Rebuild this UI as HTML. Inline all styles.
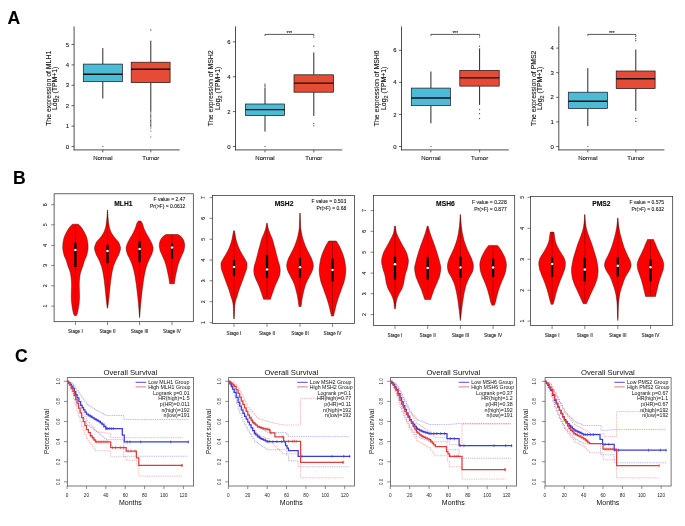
<!DOCTYPE html>
<html lang="en"><head><meta charset="utf-8"><title>MMR gene expression figure</title>
<style>
html,body{margin:0;padding:0;background:#fff;}
body{width:685px;height:526px;overflow:hidden;font-family:"Liberation Sans",Arial,Helvetica,sans-serif;}
svg{display:block;filter:blur(0.3px);}
</style></head><body>
<svg width="685" height="526" viewBox="0 0 685 526" font-family="Liberation Sans, Arial, Helvetica, sans-serif">
<text x="7.6" y="23.8" font-size="17.6" text-anchor="start" font-weight="bold" fill="#000" stroke="#000" stroke-width="0.09">A</text>
<text x="12.9" y="183.8" font-size="17.6" text-anchor="start" font-weight="bold" fill="#000" stroke="#000" stroke-width="0.09">B</text>
<text x="14.9" y="361.9" font-size="17.6" text-anchor="start" font-weight="bold" fill="#000" stroke="#000" stroke-width="0.09">C</text>
<g font-family="Liberation Sans, Arial, Helvetica, sans-serif">
<line x1="74.1" y1="26.4" x2="74.1" y2="150.3" stroke="#222" stroke-width="0.8"/>
<line x1="73.7" y1="149.9" x2="179.7" y2="149.9" stroke="#222" stroke-width="0.8"/>
<line x1="71.5" y1="146.5" x2="74.1" y2="146.5" stroke="#222" stroke-width="0.7"/>
<text x="67.5" y="148.6" font-size="6" text-anchor="middle" fill="#111" stroke="#111" stroke-width="0.09">0</text>
<line x1="71.5" y1="126.1" x2="74.1" y2="126.1" stroke="#222" stroke-width="0.7"/>
<text x="67.5" y="128.2" font-size="6" text-anchor="middle" fill="#111" stroke="#111" stroke-width="0.09">1</text>
<line x1="71.5" y1="105.7" x2="74.1" y2="105.7" stroke="#222" stroke-width="0.7"/>
<text x="67.5" y="107.8" font-size="6" text-anchor="middle" fill="#111" stroke="#111" stroke-width="0.09">2</text>
<line x1="71.5" y1="85.3" x2="74.1" y2="85.3" stroke="#222" stroke-width="0.7"/>
<text x="67.5" y="87.4" font-size="6" text-anchor="middle" fill="#111" stroke="#111" stroke-width="0.09">3</text>
<line x1="71.5" y1="64.9" x2="74.1" y2="64.9" stroke="#222" stroke-width="0.7"/>
<text x="67.5" y="67" font-size="6" text-anchor="middle" fill="#111" stroke="#111" stroke-width="0.09">4</text>
<line x1="71.5" y1="44.5" x2="74.1" y2="44.5" stroke="#222" stroke-width="0.7"/>
<text x="67.5" y="46.6" font-size="6" text-anchor="middle" fill="#111" stroke="#111" stroke-width="0.09">5</text>
<line x1="102.8" y1="149.9" x2="102.8" y2="152.4" stroke="#222" stroke-width="0.7"/>
<text x="102.8" y="159.5" font-size="6" text-anchor="middle" fill="#111" stroke="#111" stroke-width="0.09">Normal</text>
<line x1="150.8" y1="149.9" x2="150.8" y2="152.4" stroke="#222" stroke-width="0.7"/>
<text x="150.8" y="159.5" font-size="6" text-anchor="middle" fill="#111" stroke="#111" stroke-width="0.09">Tumor</text>
<text x="50.6" y="88.3" font-size="6.9" text-anchor="middle" transform="rotate(-90 50.6 88.3)" fill="#111" stroke="#111" stroke-width="0.09">The expression of MLH1</text>
<text x="57.5" y="88.3" font-size="6.9" text-anchor="middle" fill="#111" stroke="#111" stroke-width="0.12" transform="rotate(-90 57.5 88.3)">Log<tspan font-size="5.4" dy="1.6">2</tspan><tspan dy="-1.6"> (TPM+1)</tspan></text>
<line x1="102.8" y1="48.1" x2="102.8" y2="64.1" stroke="#111" stroke-width="0.9"/>
<line x1="102.8" y1="81.7" x2="102.8" y2="98.5" stroke="#111" stroke-width="0.9"/>
<rect x="83.3" y="64.1" width="39.1" height="17.6" fill="#4DBBD5" stroke="#151515" stroke-width="0.7"/>
<line x1="83.3" y1="74.3" x2="122.4" y2="74.3" stroke="#111" stroke-width="1.4"/>
<line x1="150.8" y1="40.7" x2="150.8" y2="62.2" stroke="#111" stroke-width="0.9"/>
<line x1="150.8" y1="82.6" x2="150.8" y2="111" stroke="#111" stroke-width="0.9"/>
<rect x="131.2" y="62.2" width="38.9" height="20.4" fill="#E64B35" stroke="#151515" stroke-width="0.7"/>
<line x1="131.2" y1="69.3" x2="170.1" y2="69.3" stroke="#111" stroke-width="1.4"/>
<circle cx="102.8" cy="146.5" r="0.6" fill="#333"/>
<circle cx="150.8" cy="29.9" r="0.6" fill="#333"/>
<circle cx="150.8" cy="111.5" r="0.6" fill="#333"/>
<circle cx="150.8" cy="112.77" r="0.6" fill="#333"/>
<circle cx="150.8" cy="114.04" r="0.6" fill="#333"/>
<circle cx="150.8" cy="115.31" r="0.6" fill="#333"/>
<circle cx="150.8" cy="116.58" r="0.6" fill="#333"/>
<circle cx="150.8" cy="117.85" r="0.6" fill="#333"/>
<circle cx="150.8" cy="119.12" r="0.6" fill="#333"/>
<circle cx="150.8" cy="120.38" r="0.6" fill="#333"/>
<circle cx="150.8" cy="121.65" r="0.6" fill="#333"/>
<circle cx="150.8" cy="122.92" r="0.6" fill="#333"/>
<circle cx="150.8" cy="124.19" r="0.6" fill="#333"/>
<circle cx="150.8" cy="125.46" r="0.6" fill="#333"/>
<circle cx="150.8" cy="126.73" r="0.6" fill="#333"/>
<circle cx="150.8" cy="128" r="0.6" fill="#333"/>
<circle cx="150.8" cy="131" r="0.6" fill="#333"/>
<circle cx="150.8" cy="137" r="0.6" fill="#333"/>
<line x1="235.5" y1="26.4" x2="235.5" y2="150.3" stroke="#222" stroke-width="0.8"/>
<line x1="235.1" y1="149.9" x2="342.3" y2="149.9" stroke="#222" stroke-width="0.8"/>
<line x1="232.9" y1="146.5" x2="235.5" y2="146.5" stroke="#222" stroke-width="0.7"/>
<text x="228.9" y="148.6" font-size="6" text-anchor="middle" fill="#111" stroke="#111" stroke-width="0.09">0</text>
<line x1="232.9" y1="111.6" x2="235.5" y2="111.6" stroke="#222" stroke-width="0.7"/>
<text x="228.9" y="113.7" font-size="6" text-anchor="middle" fill="#111" stroke="#111" stroke-width="0.09">2</text>
<line x1="232.9" y1="76.7" x2="235.5" y2="76.7" stroke="#222" stroke-width="0.7"/>
<text x="228.9" y="78.8" font-size="6" text-anchor="middle" fill="#111" stroke="#111" stroke-width="0.09">4</text>
<line x1="232.9" y1="41.8" x2="235.5" y2="41.8" stroke="#222" stroke-width="0.7"/>
<text x="228.9" y="43.9" font-size="6" text-anchor="middle" fill="#111" stroke="#111" stroke-width="0.09">6</text>
<line x1="265" y1="149.9" x2="265" y2="152.4" stroke="#222" stroke-width="0.7"/>
<text x="265" y="159.5" font-size="6" text-anchor="middle" fill="#111" stroke="#111" stroke-width="0.09">Normal</text>
<line x1="313.8" y1="149.9" x2="313.8" y2="152.4" stroke="#222" stroke-width="0.7"/>
<text x="313.8" y="159.5" font-size="6" text-anchor="middle" fill="#111" stroke="#111" stroke-width="0.09">Tumor</text>
<text x="213.1" y="88.3" font-size="6.9" text-anchor="middle" transform="rotate(-90 213.1 88.3)" fill="#111" stroke="#111" stroke-width="0.09">The expression of MSH2</text>
<text x="220.3" y="88.3" font-size="6.9" text-anchor="middle" fill="#111" stroke="#111" stroke-width="0.12" transform="rotate(-90 220.3 88.3)">Log<tspan font-size="5.4" dy="1.6">2</tspan><tspan dy="-1.6"> (TPM+1)</tspan></text>
<line x1="265" y1="87.5" x2="265" y2="104" stroke="#111" stroke-width="0.9"/>
<line x1="265" y1="115.6" x2="265" y2="131.6" stroke="#111" stroke-width="0.9"/>
<rect x="245.5" y="104" width="39.1" height="11.6" fill="#4DBBD5" stroke="#151515" stroke-width="0.7"/>
<line x1="245.5" y1="109.6" x2="284.6" y2="109.6" stroke="#111" stroke-width="1.4"/>
<line x1="313.8" y1="52.5" x2="313.8" y2="74.8" stroke="#111" stroke-width="0.9"/>
<line x1="313.8" y1="92.2" x2="313.8" y2="115.9" stroke="#111" stroke-width="0.9"/>
<rect x="294" y="74.8" width="39.6" height="17.4" fill="#E64B35" stroke="#151515" stroke-width="0.7"/>
<line x1="294" y1="83.1" x2="333.6" y2="83.1" stroke="#111" stroke-width="1.4"/>
<circle cx="265" cy="146.5" r="0.6" fill="#333"/>
<circle cx="265" cy="84" r="0.6" fill="#333"/>
<circle cx="265" cy="85.2" r="0.6" fill="#333"/>
<circle cx="265" cy="86.3" r="0.6" fill="#333"/>
<circle cx="313.8" cy="46.2" r="0.6" fill="#333"/>
<circle cx="313.8" cy="37.1" r="0.6" fill="#333"/>
<circle cx="313.8" cy="123.6" r="0.6" fill="#333"/>
<circle cx="313.8" cy="125.8" r="0.6" fill="#333"/>
<path d="M265 35.9 V34.4 H313.8 V35.9" fill="none" stroke="#222" stroke-width="0.75"/>
<text x="289.4" y="35.1" font-size="4.8" text-anchor="middle" fill="#111" stroke="#111" stroke-width="0.09">***</text>
<line x1="401.5" y1="26.4" x2="401.5" y2="150.3" stroke="#222" stroke-width="0.8"/>
<line x1="401.1" y1="149.9" x2="508.9" y2="149.9" stroke="#222" stroke-width="0.8"/>
<line x1="398.9" y1="146.5" x2="401.5" y2="146.5" stroke="#222" stroke-width="0.7"/>
<text x="394.9" y="148.6" font-size="6" text-anchor="middle" fill="#111" stroke="#111" stroke-width="0.09">0</text>
<line x1="398.9" y1="114.44" x2="401.5" y2="114.44" stroke="#222" stroke-width="0.7"/>
<text x="394.9" y="116.54" font-size="6" text-anchor="middle" fill="#111" stroke="#111" stroke-width="0.09">2</text>
<line x1="398.9" y1="82.38" x2="401.5" y2="82.38" stroke="#222" stroke-width="0.7"/>
<text x="394.9" y="84.48" font-size="6" text-anchor="middle" fill="#111" stroke="#111" stroke-width="0.09">4</text>
<line x1="398.9" y1="50.32" x2="401.5" y2="50.32" stroke="#222" stroke-width="0.7"/>
<text x="394.9" y="52.42" font-size="6" text-anchor="middle" fill="#111" stroke="#111" stroke-width="0.09">6</text>
<line x1="430.9" y1="149.9" x2="430.9" y2="152.4" stroke="#222" stroke-width="0.7"/>
<text x="430.9" y="159.5" font-size="6" text-anchor="middle" fill="#111" stroke="#111" stroke-width="0.09">Normal</text>
<line x1="479.6" y1="149.9" x2="479.6" y2="152.4" stroke="#222" stroke-width="0.7"/>
<text x="479.6" y="159.5" font-size="6" text-anchor="middle" fill="#111" stroke="#111" stroke-width="0.09">Tumor</text>
<text x="378.9" y="88.3" font-size="6.9" text-anchor="middle" transform="rotate(-90 378.9 88.3)" fill="#111" stroke="#111" stroke-width="0.09">The expression of MSH6</text>
<text x="386.1" y="88.3" font-size="6.9" text-anchor="middle" fill="#111" stroke="#111" stroke-width="0.12" transform="rotate(-90 386.1 88.3)">Log<tspan font-size="5.4" dy="1.6">2</tspan><tspan dy="-1.6"> (TPM+1)</tspan></text>
<line x1="430.9" y1="71.5" x2="430.9" y2="88.1" stroke="#111" stroke-width="0.9"/>
<line x1="430.9" y1="105.7" x2="430.9" y2="123.3" stroke="#111" stroke-width="0.9"/>
<rect x="411.3" y="88.1" width="39.1" height="17.6" fill="#4DBBD5" stroke="#151515" stroke-width="0.7"/>
<line x1="411.3" y1="98" x2="450.4" y2="98" stroke="#111" stroke-width="1.4"/>
<line x1="479.6" y1="48.4" x2="479.6" y2="70.4" stroke="#111" stroke-width="0.9"/>
<line x1="479.6" y1="86.1" x2="479.6" y2="104.9" stroke="#111" stroke-width="0.9"/>
<rect x="459.8" y="70.4" width="39.4" height="15.7" fill="#E64B35" stroke="#151515" stroke-width="0.7"/>
<line x1="459.8" y1="77.9" x2="499.2" y2="77.9" stroke="#111" stroke-width="1.4"/>
<circle cx="430.9" cy="146.5" r="0.6" fill="#333"/>
<circle cx="479.6" cy="46.2" r="0.6" fill="#333"/>
<circle cx="479.6" cy="37.1" r="0.6" fill="#333"/>
<circle cx="479.6" cy="109.6" r="0.6" fill="#333"/>
<circle cx="479.6" cy="113.7" r="0.6" fill="#333"/>
<circle cx="479.6" cy="118.6" r="0.6" fill="#333"/>
<path d="M430.9 35.9 V34.4 H479.6 V35.9" fill="none" stroke="#222" stroke-width="0.75"/>
<text x="455.25" y="35.1" font-size="4.8" text-anchor="middle" fill="#111" stroke="#111" stroke-width="0.09">***</text>
<line x1="558.8" y1="26.4" x2="558.8" y2="150.3" stroke="#222" stroke-width="0.8"/>
<line x1="558.4" y1="149.9" x2="664.4" y2="149.9" stroke="#222" stroke-width="0.8"/>
<line x1="556.2" y1="146.5" x2="558.8" y2="146.5" stroke="#222" stroke-width="0.7"/>
<text x="552.2" y="148.6" font-size="6" text-anchor="middle" fill="#111" stroke="#111" stroke-width="0.09">0</text>
<line x1="556.2" y1="121.9" x2="558.8" y2="121.9" stroke="#222" stroke-width="0.7"/>
<text x="552.2" y="124" font-size="6" text-anchor="middle" fill="#111" stroke="#111" stroke-width="0.09">1</text>
<line x1="556.2" y1="97.3" x2="558.8" y2="97.3" stroke="#222" stroke-width="0.7"/>
<text x="552.2" y="99.4" font-size="6" text-anchor="middle" fill="#111" stroke="#111" stroke-width="0.09">2</text>
<line x1="556.2" y1="72.7" x2="558.8" y2="72.7" stroke="#222" stroke-width="0.7"/>
<text x="552.2" y="74.8" font-size="6" text-anchor="middle" fill="#111" stroke="#111" stroke-width="0.09">3</text>
<line x1="556.2" y1="48.1" x2="558.8" y2="48.1" stroke="#222" stroke-width="0.7"/>
<text x="552.2" y="50.2" font-size="6" text-anchor="middle" fill="#111" stroke="#111" stroke-width="0.09">4</text>
<line x1="587.8" y1="149.9" x2="587.8" y2="152.4" stroke="#222" stroke-width="0.7"/>
<text x="587.8" y="159.5" font-size="6" text-anchor="middle" fill="#111" stroke="#111" stroke-width="0.09">Normal</text>
<line x1="635.8" y1="149.9" x2="635.8" y2="152.4" stroke="#222" stroke-width="0.7"/>
<text x="635.8" y="159.5" font-size="6" text-anchor="middle" fill="#111" stroke="#111" stroke-width="0.09">Tumor</text>
<text x="535.6" y="88.3" font-size="6.9" text-anchor="middle" transform="rotate(-90 535.6 88.3)" fill="#111" stroke="#111" stroke-width="0.09">The expression of PMS2</text>
<text x="542.5" y="88.3" font-size="6.9" text-anchor="middle" fill="#111" stroke="#111" stroke-width="0.12" transform="rotate(-90 542.5 88.3)">Log<tspan font-size="5.4" dy="1.6">2</tspan><tspan dy="-1.6"> (TPM+1)</tspan></text>
<line x1="587.8" y1="68.2" x2="587.8" y2="92.2" stroke="#111" stroke-width="0.9"/>
<line x1="587.8" y1="108.5" x2="587.8" y2="126.1" stroke="#111" stroke-width="0.9"/>
<rect x="568.3" y="92.2" width="39.1" height="16.3" fill="#4DBBD5" stroke="#151515" stroke-width="0.7"/>
<line x1="568.3" y1="101.3" x2="607.4" y2="101.3" stroke="#111" stroke-width="1.4"/>
<line x1="635.8" y1="49.5" x2="635.8" y2="71" stroke="#111" stroke-width="0.9"/>
<line x1="635.8" y1="88.6" x2="635.8" y2="110.9" stroke="#111" stroke-width="0.9"/>
<rect x="616.2" y="71" width="38.9" height="17.6" fill="#E64B35" stroke="#151515" stroke-width="0.7"/>
<line x1="616.2" y1="78.7" x2="655.1" y2="78.7" stroke="#111" stroke-width="1.4"/>
<circle cx="587.8" cy="146.5" r="0.6" fill="#333"/>
<circle cx="635.8" cy="36.5" r="0.6" fill="#333"/>
<circle cx="635.8" cy="38.7" r="0.6" fill="#333"/>
<circle cx="635.8" cy="40.7" r="0.6" fill="#333"/>
<circle cx="635.8" cy="118.4" r="0.6" fill="#333"/>
<circle cx="635.8" cy="121.4" r="0.6" fill="#333"/>
<path d="M587.8 35.9 V34.4 H635.8 V35.9" fill="none" stroke="#222" stroke-width="0.75"/>
<text x="611.8" y="35.1" font-size="4.8" text-anchor="middle" fill="#111" stroke="#111" stroke-width="0.09">***</text>
</g>
<g font-family="Liberation Sans, Arial, Helvetica, sans-serif">
<rect x="54.1" y="193.8" width="139.2" height="127.9" fill="#fff" stroke="#222" stroke-width="0.7"/>
<line x1="51.2" y1="204.7" x2="54.1" y2="204.7" stroke="#333" stroke-width="0.6"/>
<text x="47.5" y="204.7" font-size="5.2" text-anchor="middle" transform="rotate(-90 47.5 204.7)" fill="#111" stroke="#111" stroke-width="0.09">6</text>
<line x1="51.2" y1="224.8" x2="54.1" y2="224.8" stroke="#333" stroke-width="0.6"/>
<text x="47.5" y="224.8" font-size="5.2" text-anchor="middle" transform="rotate(-90 47.5 224.8)" fill="#111" stroke="#111" stroke-width="0.09">5</text>
<line x1="51.2" y1="245.4" x2="54.1" y2="245.4" stroke="#333" stroke-width="0.6"/>
<text x="47.5" y="245.4" font-size="5.2" text-anchor="middle" transform="rotate(-90 47.5 245.4)" fill="#111" stroke="#111" stroke-width="0.09">4</text>
<line x1="51.2" y1="265.4" x2="54.1" y2="265.4" stroke="#333" stroke-width="0.6"/>
<text x="47.5" y="265.4" font-size="5.2" text-anchor="middle" transform="rotate(-90 47.5 265.4)" fill="#111" stroke="#111" stroke-width="0.09">3</text>
<line x1="51.2" y1="285.8" x2="54.1" y2="285.8" stroke="#333" stroke-width="0.6"/>
<text x="47.5" y="285.8" font-size="5.2" text-anchor="middle" transform="rotate(-90 47.5 285.8)" fill="#111" stroke="#111" stroke-width="0.09">2</text>
<line x1="51.2" y1="306.1" x2="54.1" y2="306.1" stroke="#333" stroke-width="0.6"/>
<text x="47.5" y="306.1" font-size="5.2" text-anchor="middle" transform="rotate(-90 47.5 306.1)" fill="#111" stroke="#111" stroke-width="0.09">1</text>
<line x1="75.4" y1="321.7" x2="75.4" y2="325.2" stroke="#333" stroke-width="0.6"/>
<text x="75.4" y="333" font-size="4.7" text-anchor="middle" fill="#222" stroke="#222" stroke-width="0.09">Stage I</text>
<line x1="107.5" y1="321.7" x2="107.5" y2="325.2" stroke="#333" stroke-width="0.6"/>
<text x="107.5" y="333" font-size="4.7" text-anchor="middle" fill="#222" stroke="#222" stroke-width="0.09">Stage II</text>
<line x1="139.6" y1="321.7" x2="139.6" y2="325.2" stroke="#333" stroke-width="0.6"/>
<text x="139.6" y="333" font-size="4.7" text-anchor="middle" fill="#222" stroke="#222" stroke-width="0.09">Stage III</text>
<line x1="172" y1="321.7" x2="172" y2="325.2" stroke="#333" stroke-width="0.6"/>
<text x="172" y="333" font-size="4.7" text-anchor="middle" fill="#222" stroke="#222" stroke-width="0.09">Stage IV</text>
<text x="123.4" y="205.9" font-size="6.7" text-anchor="middle" font-weight="bold" fill="#000" stroke="#000" stroke-width="0.09">MLH1</text>
<text x="185.3" y="200.5" font-size="5" text-anchor="end" fill="#111" stroke="#111" stroke-width="0.09">F value = 2.47</text>
<text x="185.3" y="208.2" font-size="5" text-anchor="end" fill="#111" stroke="#111" stroke-width="0.09">Pr(&gt;F) = 0.0612</text>
<path d="M72.4 224.2 L70.87 225.75 L69.57 227.3 L68.46 228.85 L67.48 230.4 L66.63 231.95 L65.86 233.49 L65.12 235.04 L64.46 236.59 L63.93 238.14 L63.56 239.69 L63.28 241.24 L63.04 242.79 L62.84 244.34 L62.72 245.89 L62.71 247.44 L62.82 248.99 L63.03 250.54 L63.32 252.08 L63.68 253.63 L64.07 255.18 L64.56 256.73 L65.31 258.28 L66.04 259.83 L66.57 261.38 L67.03 262.93 L67.47 264.48 L67.94 266.03 L68.5 267.58 L69.11 269.13 L69.7 270.67 L70.16 272.22 L70.49 273.77 L70.78 275.32 L71.01 276.87 L71.19 278.42 L71.34 279.97 L71.47 281.52 L71.56 283.07 L71.6 284.62 L71.58 286.17 L71.52 287.72 L71.45 289.26 L71.4 290.81 L71.37 292.36 L71.34 293.91 L71.31 295.46 L71.3 297.01 L71.33 298.56 L71.42 300.11 L71.55 301.66 L71.69 303.21 L71.86 304.76 L72.08 306.31 L72.33 307.85 L72.6 309.4 L72.88 310.95 L73.21 312.5 L73.69 314.05 L74.4 315.6 L76.4 315.6 L77.11 314.05 L77.59 312.5 L77.92 310.95 L78.2 309.4 L78.47 307.85 L78.72 306.31 L78.94 304.76 L79.11 303.21 L79.25 301.66 L79.38 300.11 L79.47 298.56 L79.5 297.01 L79.49 295.46 L79.46 293.91 L79.43 292.36 L79.4 290.81 L79.35 289.26 L79.28 287.72 L79.22 286.17 L79.2 284.62 L79.24 283.07 L79.33 281.52 L79.46 279.97 L79.61 278.42 L79.79 276.87 L80.02 275.32 L80.31 273.77 L80.64 272.22 L81.1 270.67 L81.69 269.13 L82.3 267.58 L82.86 266.03 L83.33 264.48 L83.77 262.93 L84.23 261.38 L84.76 259.83 L85.49 258.28 L86.24 256.73 L86.73 255.18 L87.12 253.63 L87.48 252.08 L87.77 250.54 L87.98 248.99 L88.09 247.44 L88.08 245.89 L87.96 244.34 L87.76 242.79 L87.52 241.24 L87.24 239.69 L86.87 238.14 L86.34 236.59 L85.68 235.04 L84.94 233.49 L84.17 231.95 L83.32 230.4 L82.34 228.85 L81.23 227.3 L79.93 225.75 L78.4 224.2Z" fill="#FF0000" stroke="#3a0000" stroke-width="0.45" stroke-linejoin="round"/>
<line x1="75.4" y1="224.7" x2="75.4" y2="313.6" stroke="#200" stroke-width="0.35"/>
<rect x="74.25" y="242.5" width="2.3" height="24.5" fill="#000"/>
<circle cx="75.4" cy="250.1" r="1.25" fill="#fff"/>
<path d="M107.4 210 L107.33 211.66 L107.24 213.33 L107.13 214.99 L107.01 216.66 L106.87 218.32 L106.72 219.99 L106.54 221.65 L106.33 223.32 L106.08 224.98 L105.77 226.64 L105.35 228.31 L104.8 229.97 L104.15 231.64 L103.34 233.3 L102.25 234.97 L101.02 236.63 L99.78 238.29 L98.31 239.96 L96.85 241.62 L95.88 243.29 L95.21 244.95 L94.7 246.62 L94.5 248.28 L94.69 249.95 L95.15 251.61 L95.74 253.27 L96.37 254.94 L97.22 256.6 L98.14 258.27 L98.97 259.93 L99.69 261.6 L100.38 263.26 L101.03 264.93 L101.6 266.59 L102.06 268.25 L102.46 269.92 L102.81 271.58 L103.13 273.25 L103.42 274.91 L103.69 276.58 L103.93 278.24 L104.16 279.91 L104.37 281.57 L104.57 283.23 L104.76 284.9 L104.94 286.56 L105.11 288.23 L105.29 289.89 L105.46 291.56 L105.63 293.22 L105.79 294.88 L105.95 296.55 L106.11 298.21 L106.29 299.88 L106.47 301.54 L106.67 303.21 L106.87 304.87 L107.08 306.54 L107.3 308.2 L107.7 308.2 L107.92 306.54 L108.13 304.87 L108.33 303.21 L108.53 301.54 L108.71 299.88 L108.89 298.21 L109.05 296.55 L109.21 294.88 L109.37 293.22 L109.54 291.56 L109.71 289.89 L109.89 288.23 L110.06 286.56 L110.24 284.9 L110.43 283.23 L110.63 281.57 L110.84 279.91 L111.07 278.24 L111.31 276.58 L111.58 274.91 L111.87 273.25 L112.19 271.58 L112.54 269.92 L112.94 268.25 L113.4 266.59 L113.97 264.93 L114.62 263.26 L115.31 261.6 L116.03 259.93 L116.86 258.27 L117.78 256.6 L118.63 254.94 L119.26 253.27 L119.85 251.61 L120.31 249.95 L120.5 248.28 L120.3 246.62 L119.79 244.95 L119.12 243.29 L118.15 241.62 L116.69 239.96 L115.22 238.29 L113.98 236.63 L112.75 234.97 L111.66 233.3 L110.85 231.64 L110.2 229.97 L109.65 228.31 L109.23 226.64 L108.92 224.98 L108.67 223.32 L108.46 221.65 L108.28 219.99 L108.13 218.32 L107.99 216.66 L107.87 214.99 L107.76 213.33 L107.67 211.66 L107.6 210Z" fill="#FF0000" stroke="#3a0000" stroke-width="0.45" stroke-linejoin="round"/>
<line x1="107.5" y1="210.5" x2="107.5" y2="306.2" stroke="#200" stroke-width="0.35"/>
<rect x="106.35" y="244.8" width="2.3" height="18.3" fill="#000"/>
<circle cx="107.5" cy="251" r="1.25" fill="#fff"/>
<path d="M138.4 221 L137.19 222.64 L136.5 224.27 L136.04 225.91 L135.56 227.55 L134.92 229.19 L134.19 230.82 L133.39 232.46 L132.55 234.1 L131.62 235.74 L130.62 237.37 L129.64 239.01 L128.76 240.65 L127.91 242.28 L127.17 243.92 L126.64 245.56 L126.21 247.2 L126.12 248.83 L126.35 250.47 L126.76 252.11 L127.24 253.75 L127.96 255.38 L128.82 257.02 L129.65 258.66 L130.36 260.29 L131.07 261.93 L131.74 263.57 L132.34 265.21 L132.85 266.84 L133.32 268.48 L133.74 270.12 L134.13 271.76 L134.48 273.39 L134.81 275.03 L135.1 276.67 L135.37 278.31 L135.63 279.94 L135.87 281.58 L136.1 283.22 L136.32 284.85 L136.53 286.49 L136.75 288.13 L136.95 289.77 L137.15 291.4 L137.35 293.04 L137.53 294.68 L137.71 296.32 L137.89 297.95 L138.06 299.59 L138.22 301.23 L138.38 302.86 L138.54 304.5 L138.68 306.14 L138.82 307.78 L138.96 309.41 L139.08 311.05 L139.19 312.69 L139.3 314.33 L139.41 315.96 L139.5 317.6 L139.7 317.6 L139.79 315.96 L139.9 314.33 L140.01 312.69 L140.12 311.05 L140.24 309.41 L140.38 307.78 L140.52 306.14 L140.66 304.5 L140.82 302.86 L140.98 301.23 L141.14 299.59 L141.31 297.95 L141.49 296.32 L141.67 294.68 L141.85 293.04 L142.05 291.4 L142.25 289.77 L142.45 288.13 L142.67 286.49 L142.88 284.85 L143.1 283.22 L143.33 281.58 L143.57 279.94 L143.83 278.31 L144.1 276.67 L144.39 275.03 L144.72 273.39 L145.07 271.76 L145.46 270.12 L145.88 268.48 L146.35 266.84 L146.86 265.21 L147.46 263.57 L148.13 261.93 L148.84 260.29 L149.55 258.66 L150.38 257.02 L151.24 255.38 L151.96 253.75 L152.44 252.11 L152.85 250.47 L153.08 248.83 L152.99 247.2 L152.56 245.56 L152.03 243.92 L151.29 242.28 L150.44 240.65 L149.56 239.01 L148.58 237.37 L147.58 235.74 L146.65 234.1 L145.81 232.46 L145.01 230.82 L144.28 229.19 L143.64 227.55 L143.16 225.91 L142.7 224.27 L142.01 222.64 L140.8 221Z" fill="#FF0000" stroke="#3a0000" stroke-width="0.45" stroke-linejoin="round"/>
<line x1="139.6" y1="221.5" x2="139.6" y2="315.6" stroke="#200" stroke-width="0.35"/>
<rect x="138.45" y="241" width="2.3" height="21.2" fill="#000"/>
<circle cx="139.6" cy="248.9" r="1.25" fill="#fff"/>
<path d="M166.2 234.5 L164.59 235.33 L163.4 236.17 L162.55 237 L161.86 237.84 L161.29 238.67 L160.77 239.5 L160.34 240.34 L160.05 241.17 L159.83 242.01 L159.62 242.84 L159.46 243.67 L159.34 244.51 L159.3 245.34 L159.33 246.17 L159.42 247.01 L159.55 247.84 L159.71 248.68 L159.89 249.51 L160.08 250.34 L160.34 251.18 L160.67 252.01 L161.03 252.85 L161.41 253.68 L161.79 254.51 L162.15 255.35 L162.52 256.18 L162.9 257.02 L163.28 257.85 L163.66 258.68 L164.01 259.52 L164.33 260.35 L164.64 261.18 L164.94 262.02 L165.23 262.85 L165.51 263.69 L165.77 264.52 L166.02 265.35 L166.25 266.19 L166.47 267.02 L166.67 267.86 L166.87 268.69 L167.06 269.52 L167.24 270.36 L167.42 271.19 L167.59 272.03 L167.77 272.86 L167.95 273.69 L168.13 274.53 L168.31 275.36 L168.48 276.19 L168.65 277.03 L168.81 277.86 L168.95 278.7 L169.08 279.53 L169.2 280.36 L169.31 281.2 L169.42 282.03 L169.51 282.87 L169.6 283.7 L174.4 283.7 L174.49 282.87 L174.58 282.03 L174.69 281.2 L174.8 280.36 L174.92 279.53 L175.05 278.7 L175.19 277.86 L175.35 277.03 L175.52 276.19 L175.69 275.36 L175.87 274.53 L176.05 273.69 L176.23 272.86 L176.41 272.03 L176.58 271.19 L176.76 270.36 L176.94 269.52 L177.13 268.69 L177.33 267.86 L177.53 267.02 L177.75 266.19 L177.98 265.35 L178.23 264.52 L178.49 263.69 L178.77 262.85 L179.06 262.02 L179.36 261.18 L179.67 260.35 L179.99 259.52 L180.34 258.68 L180.72 257.85 L181.1 257.02 L181.48 256.18 L181.85 255.35 L182.21 254.51 L182.59 253.68 L182.97 252.85 L183.33 252.01 L183.66 251.18 L183.92 250.34 L184.11 249.51 L184.29 248.68 L184.45 247.84 L184.58 247.01 L184.67 246.17 L184.7 245.34 L184.66 244.51 L184.54 243.67 L184.38 242.84 L184.17 242.01 L183.95 241.17 L183.66 240.34 L183.23 239.5 L182.71 238.67 L182.14 237.84 L181.45 237 L180.6 236.17 L179.41 235.33 L177.8 234.5Z" fill="#FF0000" stroke="#3a0000" stroke-width="0.45" stroke-linejoin="round"/>
<line x1="172" y1="235" x2="172" y2="281.7" stroke="#200" stroke-width="0.35"/>
<rect x="170.85" y="243" width="2.3" height="15.7" fill="#000"/>
<circle cx="172" cy="247.5" r="1.25" fill="#fff"/>
<rect x="212.4" y="195.5" width="142" height="127.9" fill="#fff" stroke="#222" stroke-width="0.7"/>
<line x1="209.5" y1="197.7" x2="212.4" y2="197.7" stroke="#333" stroke-width="0.6"/>
<text x="205.2" y="197.7" font-size="5.2" text-anchor="middle" transform="rotate(-90 205.2 197.7)" fill="#111" stroke="#111" stroke-width="0.09">7</text>
<line x1="209.5" y1="218.3" x2="212.4" y2="218.3" stroke="#333" stroke-width="0.6"/>
<text x="205.2" y="218.3" font-size="5.2" text-anchor="middle" transform="rotate(-90 205.2 218.3)" fill="#111" stroke="#111" stroke-width="0.09">6</text>
<line x1="209.5" y1="239.2" x2="212.4" y2="239.2" stroke="#333" stroke-width="0.6"/>
<text x="205.2" y="239.2" font-size="5.2" text-anchor="middle" transform="rotate(-90 205.2 239.2)" fill="#111" stroke="#111" stroke-width="0.09">5</text>
<line x1="209.5" y1="260.1" x2="212.4" y2="260.1" stroke="#333" stroke-width="0.6"/>
<text x="205.2" y="260.1" font-size="5.2" text-anchor="middle" transform="rotate(-90 205.2 260.1)" fill="#111" stroke="#111" stroke-width="0.09">4</text>
<line x1="209.5" y1="280.8" x2="212.4" y2="280.8" stroke="#333" stroke-width="0.6"/>
<text x="205.2" y="280.8" font-size="5.2" text-anchor="middle" transform="rotate(-90 205.2 280.8)" fill="#111" stroke="#111" stroke-width="0.09">3</text>
<line x1="209.5" y1="301.7" x2="212.4" y2="301.7" stroke="#333" stroke-width="0.6"/>
<text x="205.2" y="301.7" font-size="5.2" text-anchor="middle" transform="rotate(-90 205.2 301.7)" fill="#111" stroke="#111" stroke-width="0.09">2</text>
<line x1="209.5" y1="322.6" x2="212.4" y2="322.6" stroke="#333" stroke-width="0.6"/>
<text x="205.2" y="322.6" font-size="5.2" text-anchor="middle" transform="rotate(-90 205.2 322.6)" fill="#111" stroke="#111" stroke-width="0.09">1</text>
<line x1="234" y1="323.4" x2="234" y2="326.9" stroke="#333" stroke-width="0.6"/>
<text x="234" y="334.7" font-size="4.7" text-anchor="middle" fill="#222" stroke="#222" stroke-width="0.09">Stage I</text>
<line x1="267" y1="323.4" x2="267" y2="326.9" stroke="#333" stroke-width="0.6"/>
<text x="267" y="334.7" font-size="4.7" text-anchor="middle" fill="#222" stroke="#222" stroke-width="0.09">Stage II</text>
<line x1="300" y1="323.4" x2="300" y2="326.9" stroke="#333" stroke-width="0.6"/>
<text x="300" y="334.7" font-size="4.7" text-anchor="middle" fill="#222" stroke="#222" stroke-width="0.09">Stage III</text>
<line x1="332.5" y1="323.4" x2="332.5" y2="326.9" stroke="#333" stroke-width="0.6"/>
<text x="332.5" y="334.7" font-size="4.7" text-anchor="middle" fill="#222" stroke="#222" stroke-width="0.09">Stage IV</text>
<text x="284.1" y="205.9" font-size="6.7" text-anchor="middle" font-weight="bold" fill="#000" stroke="#000" stroke-width="0.09">MSH2</text>
<text x="346.2" y="202.7" font-size="5" text-anchor="end" fill="#111" stroke="#111" stroke-width="0.09">F value = 0.503</text>
<text x="346.2" y="210.4" font-size="5" text-anchor="end" fill="#111" stroke="#111" stroke-width="0.09">Pr(&gt;F) = 0.68</text>
<path d="M233.7 230.7 L233.38 232.2 L233.06 233.69 L232.77 235.19 L232.49 236.69 L232.2 238.18 L231.88 239.68 L231.49 241.18 L231.05 242.67 L230.55 244.17 L230.01 245.67 L229.43 247.16 L228.78 248.66 L228.05 250.16 L227.27 251.65 L226.46 253.15 L225.64 254.65 L224.74 256.14 L223.82 257.64 L222.95 259.14 L222.16 260.63 L221.35 262.13 L221 263.63 L221.03 265.12 L221.1 266.62 L221.21 268.12 L221.53 269.61 L222.07 271.11 L222.66 272.61 L223.18 274.1 L223.72 275.6 L224.27 277.09 L224.81 278.59 L225.35 280.09 L225.89 281.58 L226.43 283.08 L226.99 284.58 L227.57 286.07 L228.14 287.57 L228.68 289.07 L229.18 290.56 L229.64 292.06 L230.08 293.56 L230.51 295.05 L230.98 296.55 L231.49 298.05 L232 299.54 L232.41 301.04 L232.75 302.54 L233.05 304.03 L233.26 305.53 L233.36 307.03 L233.43 308.52 L233.48 310.02 L233.53 311.52 L233.59 313.01 L233.64 314.51 L233.7 316.01 L233.75 317.5 L233.8 319 L234.2 319 L234.25 317.5 L234.3 316.01 L234.36 314.51 L234.41 313.01 L234.47 311.52 L234.52 310.02 L234.57 308.52 L234.64 307.03 L234.74 305.53 L234.95 304.03 L235.25 302.54 L235.59 301.04 L236 299.54 L236.51 298.05 L237.02 296.55 L237.49 295.05 L237.92 293.56 L238.36 292.06 L238.82 290.56 L239.32 289.07 L239.86 287.57 L240.43 286.07 L241.01 284.58 L241.57 283.08 L242.11 281.58 L242.65 280.09 L243.19 278.59 L243.73 277.09 L244.28 275.6 L244.82 274.1 L245.34 272.61 L245.93 271.11 L246.47 269.61 L246.79 268.12 L246.9 266.62 L246.97 265.12 L247 263.63 L246.65 262.13 L245.84 260.63 L245.05 259.14 L244.18 257.64 L243.26 256.14 L242.36 254.65 L241.54 253.15 L240.73 251.65 L239.95 250.16 L239.22 248.66 L238.57 247.16 L237.99 245.67 L237.45 244.17 L236.95 242.67 L236.51 241.18 L236.12 239.68 L235.8 238.18 L235.51 236.69 L235.23 235.19 L234.94 233.69 L234.62 232.2 L234.3 230.7Z" fill="#FF0000" stroke="#3a0000" stroke-width="0.45" stroke-linejoin="round"/>
<line x1="234" y1="231.2" x2="234" y2="317" stroke="#200" stroke-width="0.35"/>
<rect x="232.85" y="260.1" width="2.3" height="15.6" fill="#000"/>
<circle cx="234" cy="266.9" r="1.25" fill="#fff"/>
<path d="M266.7 223.3 L266.53 224.59 L266.31 225.88 L266.04 227.16 L265.74 228.45 L265.36 229.74 L264.92 231.03 L264.44 232.32 L263.96 233.61 L263.43 234.89 L262.85 236.18 L262.27 237.47 L261.75 238.76 L261.33 240.05 L260.96 241.33 L260.62 242.62 L260.29 243.91 L259.95 245.2 L259.6 246.49 L259.25 247.77 L258.9 249.06 L258.56 250.35 L258.24 251.64 L257.92 252.93 L257.6 254.22 L257.29 255.5 L256.96 256.79 L256.62 258.08 L256.25 259.37 L255.88 260.66 L255.52 261.94 L255.12 263.23 L254.71 264.52 L254.36 265.81 L254.12 267.1 L253.92 268.38 L253.81 269.67 L253.82 270.96 L253.9 272.25 L254.01 273.54 L254.27 274.83 L254.69 276.11 L255.18 277.4 L255.67 278.69 L256.23 279.98 L256.83 281.27 L257.42 282.55 L258.02 283.84 L258.61 285.13 L259.17 286.42 L259.65 287.71 L260.07 288.99 L260.51 290.28 L260.96 291.57 L261.43 292.86 L261.89 294.15 L262.34 295.44 L262.77 296.72 L263.19 298.01 L263.6 299.3 L270.4 299.3 L270.81 298.01 L271.23 296.72 L271.66 295.44 L272.11 294.15 L272.57 292.86 L273.04 291.57 L273.49 290.28 L273.93 288.99 L274.35 287.71 L274.83 286.42 L275.39 285.13 L275.98 283.84 L276.58 282.55 L277.17 281.27 L277.77 279.98 L278.33 278.69 L278.82 277.4 L279.31 276.11 L279.73 274.83 L279.99 273.54 L280.1 272.25 L280.18 270.96 L280.19 269.67 L280.08 268.38 L279.88 267.1 L279.64 265.81 L279.29 264.52 L278.88 263.23 L278.48 261.94 L278.12 260.66 L277.75 259.37 L277.38 258.08 L277.04 256.79 L276.71 255.5 L276.4 254.22 L276.08 252.93 L275.76 251.64 L275.44 250.35 L275.1 249.06 L274.75 247.77 L274.4 246.49 L274.05 245.2 L273.71 243.91 L273.38 242.62 L273.04 241.33 L272.67 240.05 L272.25 238.76 L271.73 237.47 L271.15 236.18 L270.57 234.89 L270.04 233.61 L269.56 232.32 L269.08 231.03 L268.64 229.74 L268.26 228.45 L267.96 227.16 L267.69 225.88 L267.47 224.59 L267.3 223.3Z" fill="#FF0000" stroke="#3a0000" stroke-width="0.45" stroke-linejoin="round"/>
<line x1="267" y1="223.8" x2="267" y2="297.3" stroke="#200" stroke-width="0.35"/>
<rect x="265.85" y="255.1" width="2.3" height="22.7" fill="#000"/>
<circle cx="267" cy="269.6" r="1.25" fill="#fff"/>
<path d="M299.9 213 L299.85 214.58 L299.79 216.17 L299.74 217.75 L299.68 219.33 L299.62 220.92 L299.56 222.5 L299.5 224.08 L299.43 225.66 L299.34 227.25 L299.2 228.83 L298.97 230.41 L298.69 232 L298.39 233.58 L298.05 235.16 L297.66 236.75 L297.24 238.33 L296.79 239.91 L296.28 241.49 L295.73 243.08 L295.13 244.66 L294.5 246.24 L293.8 247.83 L293.07 249.41 L292.31 250.99 L291.48 252.58 L290.63 254.16 L289.82 255.74 L289 257.33 L288.28 258.91 L287.75 260.49 L287.26 262.07 L286.88 263.66 L286.7 265.24 L286.8 266.82 L287.08 268.41 L287.47 269.99 L288.13 271.57 L288.89 273.16 L289.66 274.74 L290.51 276.32 L291.35 277.91 L292.16 279.49 L292.96 281.07 L293.66 282.65 L294.28 284.24 L294.83 285.82 L295.32 287.4 L295.75 288.99 L296.15 290.57 L296.53 292.15 L296.91 293.74 L297.26 295.32 L297.57 296.9 L297.84 298.48 L298.09 300.07 L298.32 301.65 L298.53 303.23 L298.73 304.82 L298.9 306.4 L301.1 306.4 L301.27 304.82 L301.47 303.23 L301.68 301.65 L301.91 300.07 L302.16 298.48 L302.43 296.9 L302.74 295.32 L303.09 293.74 L303.47 292.15 L303.85 290.57 L304.25 288.99 L304.68 287.4 L305.17 285.82 L305.72 284.24 L306.34 282.65 L307.04 281.07 L307.84 279.49 L308.65 277.91 L309.49 276.32 L310.34 274.74 L311.11 273.16 L311.87 271.57 L312.53 269.99 L312.92 268.41 L313.2 266.82 L313.3 265.24 L313.12 263.66 L312.74 262.07 L312.25 260.49 L311.72 258.91 L311 257.33 L310.18 255.74 L309.37 254.16 L308.52 252.58 L307.69 250.99 L306.93 249.41 L306.2 247.83 L305.5 246.24 L304.87 244.66 L304.27 243.08 L303.72 241.49 L303.21 239.91 L302.76 238.33 L302.34 236.75 L301.95 235.16 L301.61 233.58 L301.31 232 L301.03 230.41 L300.8 228.83 L300.66 227.25 L300.57 225.66 L300.5 224.08 L300.44 222.5 L300.38 220.92 L300.32 219.33 L300.26 217.75 L300.21 216.17 L300.15 214.58 L300.1 213Z" fill="#FF0000" stroke="#3a0000" stroke-width="0.45" stroke-linejoin="round"/>
<line x1="300" y1="213.5" x2="300" y2="304.4" stroke="#200" stroke-width="0.35"/>
<rect x="298.85" y="257.8" width="2.3" height="20" fill="#000"/>
<circle cx="300" cy="267.2" r="1.25" fill="#fff"/>
<path d="M328.7 241 L327.89 242.27 L327.12 243.55 L326.4 244.82 L325.72 246.09 L325.07 247.36 L324.45 248.64 L323.86 249.91 L323.32 251.18 L322.83 252.46 L322.35 253.73 L321.89 255 L321.47 256.27 L321.08 257.55 L320.75 258.82 L320.48 260.09 L320.25 261.37 L320.02 262.64 L319.81 263.91 L319.62 265.18 L319.45 266.46 L319.32 267.73 L319.23 269 L319.2 270.28 L319.23 271.55 L319.32 272.82 L319.46 274.09 L319.64 275.37 L319.86 276.64 L320.1 277.91 L320.34 279.19 L320.6 280.46 L320.92 281.73 L321.31 283.01 L321.75 284.28 L322.22 285.55 L322.71 286.82 L323.18 288.1 L323.63 289.37 L324.08 290.64 L324.54 291.92 L325.01 293.19 L325.47 294.46 L325.93 295.73 L326.37 297.01 L326.79 298.28 L327.2 299.55 L327.6 300.83 L327.99 302.1 L328.37 303.37 L328.73 304.64 L329.08 305.92 L329.4 307.19 L329.69 308.46 L329.98 309.74 L330.27 311.01 L330.57 312.28 L330.87 313.55 L331.19 314.83 L331.5 316.1 L333.5 316.1 L333.81 314.83 L334.13 313.55 L334.43 312.28 L334.73 311.01 L335.02 309.74 L335.31 308.46 L335.6 307.19 L335.92 305.92 L336.27 304.64 L336.63 303.37 L337.01 302.1 L337.4 300.83 L337.8 299.55 L338.21 298.28 L338.63 297.01 L339.07 295.73 L339.53 294.46 L339.99 293.19 L340.46 291.92 L340.92 290.64 L341.37 289.37 L341.82 288.1 L342.29 286.82 L342.78 285.55 L343.25 284.28 L343.69 283.01 L344.08 281.73 L344.4 280.46 L344.66 279.19 L344.9 277.91 L345.14 276.64 L345.36 275.37 L345.54 274.09 L345.68 272.82 L345.77 271.55 L345.8 270.28 L345.77 269 L345.68 267.73 L345.55 266.46 L345.38 265.18 L345.19 263.91 L344.98 262.64 L344.75 261.37 L344.52 260.09 L344.25 258.82 L343.92 257.55 L343.53 256.27 L343.11 255 L342.65 253.73 L342.17 252.46 L341.68 251.18 L341.14 249.91 L340.55 248.64 L339.93 247.36 L339.28 246.09 L338.6 244.82 L337.88 243.55 L337.11 242.27 L336.3 241Z" fill="#FF0000" stroke="#3a0000" stroke-width="0.45" stroke-linejoin="round"/>
<line x1="332.5" y1="241.5" x2="332.5" y2="314.1" stroke="#200" stroke-width="0.35"/>
<rect x="331.35" y="258.7" width="2.3" height="22.6" fill="#000"/>
<circle cx="332.5" cy="270.1" r="1.25" fill="#fff"/>
<rect x="373.4" y="195.5" width="141.3" height="129.9" fill="#fff" stroke="#222" stroke-width="0.7"/>
<line x1="370.5" y1="210.6" x2="373.4" y2="210.6" stroke="#333" stroke-width="0.6"/>
<text x="365.9" y="210.6" font-size="5.2" text-anchor="middle" transform="rotate(-90 365.9 210.6)" fill="#111" stroke="#111" stroke-width="0.09">7</text>
<line x1="370.5" y1="231.3" x2="373.4" y2="231.3" stroke="#333" stroke-width="0.6"/>
<text x="365.9" y="231.3" font-size="5.2" text-anchor="middle" transform="rotate(-90 365.9 231.3)" fill="#111" stroke="#111" stroke-width="0.09">6</text>
<line x1="370.5" y1="252.2" x2="373.4" y2="252.2" stroke="#333" stroke-width="0.6"/>
<text x="365.9" y="252.2" font-size="5.2" text-anchor="middle" transform="rotate(-90 365.9 252.2)" fill="#111" stroke="#111" stroke-width="0.09">5</text>
<line x1="370.5" y1="273.1" x2="373.4" y2="273.1" stroke="#333" stroke-width="0.6"/>
<text x="365.9" y="273.1" font-size="5.2" text-anchor="middle" transform="rotate(-90 365.9 273.1)" fill="#111" stroke="#111" stroke-width="0.09">4</text>
<line x1="370.5" y1="293.7" x2="373.4" y2="293.7" stroke="#333" stroke-width="0.6"/>
<text x="365.9" y="293.7" font-size="5.2" text-anchor="middle" transform="rotate(-90 365.9 293.7)" fill="#111" stroke="#111" stroke-width="0.09">3</text>
<line x1="370.5" y1="314.6" x2="373.4" y2="314.6" stroke="#333" stroke-width="0.6"/>
<text x="365.9" y="314.6" font-size="5.2" text-anchor="middle" transform="rotate(-90 365.9 314.6)" fill="#111" stroke="#111" stroke-width="0.09">2</text>
<line x1="395" y1="325.4" x2="395" y2="328.9" stroke="#333" stroke-width="0.6"/>
<text x="395" y="336.9" font-size="4.7" text-anchor="middle" fill="#222" stroke="#222" stroke-width="0.09">Stage I</text>
<line x1="427.7" y1="325.4" x2="427.7" y2="328.9" stroke="#333" stroke-width="0.6"/>
<text x="427.7" y="336.9" font-size="4.7" text-anchor="middle" fill="#222" stroke="#222" stroke-width="0.09">Stage II</text>
<line x1="460.4" y1="325.4" x2="460.4" y2="328.9" stroke="#333" stroke-width="0.6"/>
<text x="460.4" y="336.9" font-size="4.7" text-anchor="middle" fill="#222" stroke="#222" stroke-width="0.09">Stage III</text>
<line x1="493.1" y1="325.4" x2="493.1" y2="328.9" stroke="#333" stroke-width="0.6"/>
<text x="493.1" y="336.9" font-size="4.7" text-anchor="middle" fill="#222" stroke="#222" stroke-width="0.09">Stage IV</text>
<text x="445.4" y="205.9" font-size="6.7" text-anchor="middle" font-weight="bold" fill="#000" stroke="#000" stroke-width="0.09">MSH6</text>
<text x="506.7" y="203.5" font-size="5" text-anchor="end" fill="#111" stroke="#111" stroke-width="0.09">F value = 0.228</text>
<text x="506.7" y="210.9" font-size="5" text-anchor="end" fill="#111" stroke="#111" stroke-width="0.09">Pr(&gt;F) = 0.877</text>
<path d="M394.5 226.2 L394.44 227.6 L394.29 229 L394.07 230.39 L393.79 231.79 L393.47 233.19 L392.95 234.59 L392.29 235.99 L391.62 237.39 L390.92 238.78 L390.19 240.18 L389.45 241.58 L388.69 242.98 L387.92 244.38 L387.15 245.78 L386.41 247.17 L385.64 248.57 L384.86 249.97 L384.11 251.37 L383.47 252.77 L382.98 254.17 L382.59 255.56 L382.21 256.96 L381.9 258.36 L381.68 259.76 L381.6 261.16 L381.67 262.56 L381.86 263.95 L382.13 265.35 L382.45 266.75 L382.77 268.15 L383.12 269.55 L383.57 270.95 L384.05 272.34 L384.52 273.74 L384.92 275.14 L385.21 276.54 L385.44 277.94 L385.64 279.34 L385.85 280.73 L386.1 282.13 L386.41 283.53 L386.78 284.93 L387.2 286.33 L387.68 287.73 L388.26 289.12 L389.02 290.52 L389.86 291.92 L390.66 293.32 L391.33 294.72 L391.98 296.12 L392.58 297.51 L393.08 298.91 L393.45 300.31 L393.74 301.71 L393.98 303.11 L394.16 304.51 L394.31 305.9 L394.43 307.3 L394.5 308.7 L395.5 308.7 L395.57 307.3 L395.69 305.9 L395.84 304.51 L396.02 303.11 L396.26 301.71 L396.55 300.31 L396.92 298.91 L397.42 297.51 L398.02 296.12 L398.67 294.72 L399.34 293.32 L400.14 291.92 L400.98 290.52 L401.74 289.12 L402.32 287.73 L402.8 286.33 L403.22 284.93 L403.59 283.53 L403.9 282.13 L404.15 280.73 L404.36 279.34 L404.56 277.94 L404.79 276.54 L405.08 275.14 L405.48 273.74 L405.95 272.34 L406.43 270.95 L406.88 269.55 L407.23 268.15 L407.55 266.75 L407.87 265.35 L408.14 263.95 L408.33 262.56 L408.4 261.16 L408.32 259.76 L408.1 258.36 L407.79 256.96 L407.41 255.56 L407.02 254.17 L406.53 252.77 L405.89 251.37 L405.14 249.97 L404.36 248.57 L403.59 247.17 L402.85 245.78 L402.08 244.38 L401.31 242.98 L400.55 241.58 L399.81 240.18 L399.08 238.78 L398.38 237.39 L397.71 235.99 L397.05 234.59 L396.53 233.19 L396.21 231.79 L395.93 230.39 L395.71 229 L395.56 227.6 L395.5 226.2Z" fill="#FF0000" stroke="#3a0000" stroke-width="0.45" stroke-linejoin="round"/>
<line x1="395" y1="226.7" x2="395" y2="306.7" stroke="#200" stroke-width="0.35"/>
<rect x="393.85" y="256.6" width="2.3" height="23.3" fill="#000"/>
<circle cx="395" cy="264.3" r="1.25" fill="#fff"/>
<path d="M427.2 226.2 L426.89 227.44 L426.56 228.68 L426.22 229.93 L425.86 231.17 L425.49 232.41 L425.1 233.65 L424.68 234.9 L424.25 236.14 L423.81 237.38 L423.36 238.62 L422.91 239.87 L422.46 241.11 L422 242.35 L421.54 243.59 L421.07 244.84 L420.62 246.08 L420.19 247.32 L419.77 248.56 L419.36 249.81 L418.95 251.05 L418.56 252.29 L418.17 253.53 L417.8 254.77 L417.42 256.02 L417.05 257.26 L416.7 258.5 L416.36 259.74 L416.05 260.99 L415.75 262.23 L415.42 263.47 L415.1 264.71 L414.84 265.96 L414.66 267.2 L414.6 268.44 L414.66 269.68 L414.8 270.93 L415 272.17 L415.25 273.41 L415.52 274.65 L415.79 275.89 L416.14 277.14 L416.58 278.38 L417.07 279.62 L417.58 280.86 L418.1 282.11 L418.61 283.35 L419.15 284.59 L419.71 285.83 L420.28 287.08 L420.83 288.32 L421.35 289.56 L421.81 290.8 L422.26 292.05 L422.68 293.29 L423.1 294.53 L423.53 295.77 L423.96 297.02 L424.38 298.26 L424.8 299.5 L430.6 299.5 L431.02 298.26 L431.44 297.02 L431.87 295.77 L432.3 294.53 L432.72 293.29 L433.14 292.05 L433.59 290.8 L434.05 289.56 L434.57 288.32 L435.12 287.08 L435.69 285.83 L436.25 284.59 L436.79 283.35 L437.3 282.11 L437.82 280.86 L438.33 279.62 L438.82 278.38 L439.26 277.14 L439.61 275.89 L439.88 274.65 L440.15 273.41 L440.4 272.17 L440.6 270.93 L440.74 269.68 L440.8 268.44 L440.74 267.2 L440.56 265.96 L440.3 264.71 L439.98 263.47 L439.65 262.23 L439.35 260.99 L439.04 259.74 L438.7 258.5 L438.35 257.26 L437.98 256.02 L437.6 254.77 L437.23 253.53 L436.84 252.29 L436.45 251.05 L436.04 249.81 L435.63 248.56 L435.21 247.32 L434.78 246.08 L434.33 244.84 L433.86 243.59 L433.4 242.35 L432.94 241.11 L432.49 239.87 L432.04 238.62 L431.59 237.38 L431.15 236.14 L430.72 234.9 L430.3 233.65 L429.91 232.41 L429.54 231.17 L429.18 229.93 L428.84 228.68 L428.51 227.44 L428.2 226.2Z" fill="#FF0000" stroke="#3a0000" stroke-width="0.45" stroke-linejoin="round"/>
<line x1="427.7" y1="226.7" x2="427.7" y2="297.5" stroke="#200" stroke-width="0.35"/>
<rect x="426.55" y="257.2" width="2.3" height="22.7" fill="#000"/>
<circle cx="427.7" cy="268.1" r="1.25" fill="#fff"/>
<path d="M460.3 214.5 L460.21 216.3 L460.1 218.09 L459.97 219.89 L459.83 221.69 L459.67 223.48 L459.49 225.28 L459.28 227.08 L459.05 228.87 L458.8 230.67 L458.52 232.47 L458.19 234.26 L457.83 236.06 L457.43 237.86 L456.98 239.65 L456.45 241.45 L455.87 243.25 L455.25 245.04 L454.58 246.84 L453.83 248.64 L453.02 250.43 L452.19 252.23 L451.39 254.03 L450.56 255.82 L449.7 257.62 L448.93 259.42 L448.34 261.21 L447.85 263.01 L447.49 264.81 L447.41 266.6 L447.6 268.4 L447.93 270.19 L448.4 271.99 L449.3 273.79 L450.43 275.58 L451.49 277.38 L452.34 279.18 L453.13 280.97 L453.88 282.77 L454.55 284.57 L455.1 286.36 L455.58 288.16 L456 289.96 L456.38 291.75 L456.73 293.55 L457.06 295.35 L457.37 297.14 L457.67 298.94 L457.94 300.74 L458.2 302.53 L458.44 304.33 L458.68 306.13 L458.91 307.92 L459.12 309.72 L459.33 311.52 L459.54 313.31 L459.74 315.11 L459.93 316.91 L460.12 318.7 L460.3 320.5 L460.5 320.5 L460.68 318.7 L460.87 316.91 L461.06 315.11 L461.26 313.31 L461.47 311.52 L461.68 309.72 L461.89 307.92 L462.12 306.13 L462.36 304.33 L462.6 302.53 L462.86 300.74 L463.13 298.94 L463.43 297.14 L463.74 295.35 L464.07 293.55 L464.42 291.75 L464.8 289.96 L465.22 288.16 L465.7 286.36 L466.25 284.57 L466.92 282.77 L467.67 280.97 L468.46 279.18 L469.31 277.38 L470.37 275.58 L471.5 273.79 L472.4 271.99 L472.87 270.19 L473.2 268.4 L473.39 266.6 L473.31 264.81 L472.95 263.01 L472.46 261.21 L471.87 259.42 L471.1 257.62 L470.24 255.82 L469.41 254.03 L468.61 252.23 L467.78 250.43 L466.97 248.64 L466.22 246.84 L465.55 245.04 L464.93 243.25 L464.35 241.45 L463.82 239.65 L463.37 237.86 L462.97 236.06 L462.61 234.26 L462.28 232.47 L462 230.67 L461.75 228.87 L461.52 227.08 L461.31 225.28 L461.13 223.48 L460.97 221.69 L460.83 219.89 L460.7 218.09 L460.59 216.3 L460.5 214.5Z" fill="#FF0000" stroke="#3a0000" stroke-width="0.45" stroke-linejoin="round"/>
<line x1="460.4" y1="215" x2="460.4" y2="318.5" stroke="#200" stroke-width="0.35"/>
<rect x="459.25" y="256.6" width="2.3" height="21.2" fill="#000"/>
<circle cx="460.4" cy="267.5" r="1.25" fill="#fff"/>
<path d="M488.7 245.4 L487.83 246.41 L487.02 247.43 L486.3 248.44 L485.63 249.45 L485 250.47 L484.42 251.48 L483.86 252.49 L483.34 253.51 L482.81 254.52 L482.29 255.54 L481.81 256.55 L481.38 257.56 L481.02 258.58 L480.74 259.59 L480.46 260.6 L480.2 261.62 L479.99 262.63 L479.85 263.64 L479.8 264.66 L479.83 265.67 L479.9 266.68 L480 267.7 L480.12 268.71 L480.26 269.73 L480.43 270.74 L480.67 271.75 L480.97 272.77 L481.31 273.78 L481.67 274.79 L482.03 275.81 L482.41 276.82 L482.82 277.83 L483.27 278.85 L483.73 279.86 L484.19 280.87 L484.64 281.89 L485.06 282.9 L485.45 283.92 L485.84 284.93 L486.22 285.94 L486.58 286.96 L486.94 287.97 L487.28 288.98 L487.6 290 L487.9 291.01 L488.19 292.02 L488.47 293.04 L488.74 294.05 L489.01 295.06 L489.27 296.08 L489.52 297.09 L489.76 298.11 L489.99 299.12 L490.22 300.13 L490.46 301.15 L490.75 302.16 L491.09 303.17 L491.48 304.19 L491.9 305.2 L494.3 305.2 L494.72 304.19 L495.11 303.17 L495.45 302.16 L495.74 301.15 L495.98 300.13 L496.21 299.12 L496.44 298.11 L496.68 297.09 L496.93 296.08 L497.19 295.06 L497.46 294.05 L497.73 293.04 L498.01 292.02 L498.3 291.01 L498.6 290 L498.92 288.98 L499.26 287.97 L499.62 286.96 L499.98 285.94 L500.36 284.93 L500.75 283.92 L501.14 282.9 L501.56 281.89 L502.01 280.87 L502.47 279.86 L502.93 278.85 L503.38 277.83 L503.79 276.82 L504.17 275.81 L504.53 274.79 L504.89 273.78 L505.23 272.77 L505.53 271.75 L505.77 270.74 L505.94 269.73 L506.08 268.71 L506.2 267.7 L506.3 266.68 L506.37 265.67 L506.4 264.66 L506.35 263.64 L506.21 262.63 L506 261.62 L505.74 260.6 L505.46 259.59 L505.18 258.58 L504.82 257.56 L504.39 256.55 L503.91 255.54 L503.39 254.52 L502.86 253.51 L502.34 252.49 L501.78 251.48 L501.2 250.47 L500.57 249.45 L499.9 248.44 L499.18 247.43 L498.37 246.41 L497.5 245.4Z" fill="#FF0000" stroke="#3a0000" stroke-width="0.45" stroke-linejoin="round"/>
<line x1="493.1" y1="245.9" x2="493.1" y2="303.2" stroke="#200" stroke-width="0.35"/>
<rect x="491.95" y="258.7" width="2.3" height="18.2" fill="#000"/>
<circle cx="493.1" cy="267.5" r="1.25" fill="#fff"/>
<rect x="530.4" y="196.4" width="142.3" height="129" fill="#fff" stroke="#222" stroke-width="0.7"/>
<line x1="527.5" y1="197.4" x2="530.4" y2="197.4" stroke="#333" stroke-width="0.6"/>
<text x="523.9" y="197.4" font-size="5.2" text-anchor="middle" transform="rotate(-90 523.9 197.4)" fill="#111" stroke="#111" stroke-width="0.09">5</text>
<line x1="527.5" y1="228.3" x2="530.4" y2="228.3" stroke="#333" stroke-width="0.6"/>
<text x="523.9" y="228.3" font-size="5.2" text-anchor="middle" transform="rotate(-90 523.9 228.3)" fill="#111" stroke="#111" stroke-width="0.09">4</text>
<line x1="527.5" y1="259.2" x2="530.4" y2="259.2" stroke="#333" stroke-width="0.6"/>
<text x="523.9" y="259.2" font-size="5.2" text-anchor="middle" transform="rotate(-90 523.9 259.2)" fill="#111" stroke="#111" stroke-width="0.09">3</text>
<line x1="527.5" y1="290.2" x2="530.4" y2="290.2" stroke="#333" stroke-width="0.6"/>
<text x="523.9" y="290.2" font-size="5.2" text-anchor="middle" transform="rotate(-90 523.9 290.2)" fill="#111" stroke="#111" stroke-width="0.09">2</text>
<line x1="527.5" y1="321.1" x2="530.4" y2="321.1" stroke="#333" stroke-width="0.6"/>
<text x="523.9" y="321.1" font-size="5.2" text-anchor="middle" transform="rotate(-90 523.9 321.1)" fill="#111" stroke="#111" stroke-width="0.09">1</text>
<line x1="552.1" y1="325.4" x2="552.1" y2="328.9" stroke="#333" stroke-width="0.6"/>
<text x="552.1" y="337.2" font-size="4.7" text-anchor="middle" fill="#222" stroke="#222" stroke-width="0.09">Stage I</text>
<line x1="584.8" y1="325.4" x2="584.8" y2="328.9" stroke="#333" stroke-width="0.6"/>
<text x="584.8" y="337.2" font-size="4.7" text-anchor="middle" fill="#222" stroke="#222" stroke-width="0.09">Stage II</text>
<line x1="617.8" y1="325.4" x2="617.8" y2="328.9" stroke="#333" stroke-width="0.6"/>
<text x="617.8" y="337.2" font-size="4.7" text-anchor="middle" fill="#222" stroke="#222" stroke-width="0.09">Stage III</text>
<line x1="650.5" y1="325.4" x2="650.5" y2="328.9" stroke="#333" stroke-width="0.6"/>
<text x="650.5" y="337.2" font-size="4.7" text-anchor="middle" fill="#222" stroke="#222" stroke-width="0.09">Stage IV</text>
<text x="601.3" y="205.9" font-size="6.7" text-anchor="middle" font-weight="bold" fill="#000" stroke="#000" stroke-width="0.09">PMS2</text>
<text x="664" y="203.8" font-size="5" text-anchor="end" fill="#111" stroke="#111" stroke-width="0.09">F value = 0.575</text>
<text x="664" y="211.4" font-size="5" text-anchor="end" fill="#111" stroke="#111" stroke-width="0.09">Pr(&gt;F) = 0.632</text>
<path d="M550.3 232.1 L550.11 233.32 L549.93 234.55 L549.74 235.77 L549.55 236.99 L549.38 238.22 L549.2 239.44 L548.97 240.67 L548.67 241.89 L548.27 243.11 L547.79 244.34 L547.26 245.56 L546.7 246.78 L546.09 248.01 L545.4 249.23 L544.65 250.46 L543.89 251.68 L543.16 252.9 L542.41 254.13 L541.62 255.35 L540.85 256.57 L540.18 257.8 L539.69 259.02 L539.32 260.25 L538.99 261.47 L538.81 262.69 L538.82 263.92 L538.91 265.14 L539.06 266.36 L539.24 267.59 L539.46 268.81 L539.81 270.04 L540.24 271.26 L540.72 272.48 L541.19 273.71 L541.65 274.93 L542.13 276.15 L542.64 277.38 L543.14 278.6 L543.64 279.83 L544.12 281.05 L544.58 282.27 L545.04 283.5 L545.48 284.72 L545.92 285.94 L546.33 287.17 L546.72 288.39 L547.1 289.62 L547.46 290.84 L547.8 292.06 L548.14 293.29 L548.47 294.51 L548.79 295.73 L549.09 296.96 L549.39 298.18 L549.68 299.41 L550 300.63 L550.34 301.85 L550.71 303.08 L551.1 304.3 L553.1 304.3 L553.49 303.08 L553.86 301.85 L554.2 300.63 L554.52 299.41 L554.81 298.18 L555.11 296.96 L555.41 295.73 L555.73 294.51 L556.06 293.29 L556.4 292.06 L556.74 290.84 L557.1 289.62 L557.48 288.39 L557.87 287.17 L558.28 285.94 L558.72 284.72 L559.16 283.5 L559.62 282.27 L560.08 281.05 L560.56 279.83 L561.06 278.6 L561.56 277.38 L562.07 276.15 L562.55 274.93 L563.01 273.71 L563.48 272.48 L563.96 271.26 L564.39 270.04 L564.74 268.81 L564.96 267.59 L565.14 266.36 L565.29 265.14 L565.38 263.92 L565.39 262.69 L565.21 261.47 L564.88 260.25 L564.51 259.02 L564.02 257.8 L563.35 256.57 L562.58 255.35 L561.79 254.13 L561.04 252.9 L560.31 251.68 L559.55 250.46 L558.8 249.23 L558.11 248.01 L557.5 246.78 L556.94 245.56 L556.41 244.34 L555.93 243.11 L555.53 241.89 L555.23 240.67 L555 239.44 L554.82 238.22 L554.65 236.99 L554.46 235.77 L554.27 234.55 L554.09 233.32 L553.9 232.1Z" fill="#FF0000" stroke="#3a0000" stroke-width="0.45" stroke-linejoin="round"/>
<line x1="552.1" y1="232.6" x2="552.1" y2="302.3" stroke="#200" stroke-width="0.35"/>
<rect x="550.95" y="257.2" width="2.3" height="19.7" fill="#000"/>
<circle cx="552.1" cy="264" r="1.25" fill="#fff"/>
<path d="M584.7 214.5 L584.65 216.01 L584.57 217.52 L584.46 219.04 L584.34 220.55 L584.2 222.06 L584.02 223.57 L583.81 225.08 L583.56 226.59 L583.28 228.11 L582.92 229.62 L582.48 231.13 L581.98 232.64 L581.45 234.15 L580.91 235.67 L580.38 237.18 L579.81 238.69 L579.22 240.2 L578.63 241.71 L578.07 243.23 L577.55 244.74 L577.06 246.25 L576.58 247.76 L576.12 249.27 L575.66 250.78 L575.21 252.3 L574.74 253.81 L574.26 255.32 L573.79 256.83 L573.38 258.34 L573.03 259.86 L572.73 261.37 L572.43 262.88 L572.14 264.39 L571.88 265.9 L571.68 267.42 L571.55 268.93 L571.5 270.44 L571.55 271.95 L571.69 273.46 L571.89 274.97 L572.12 276.49 L572.39 278 L572.77 279.51 L573.24 281.02 L573.77 282.53 L574.32 284.05 L574.92 285.56 L575.61 287.07 L576.33 288.58 L577.04 290.09 L577.75 291.61 L578.46 293.12 L579.17 294.63 L579.86 296.14 L580.53 297.65 L581.18 299.16 L581.85 300.68 L582.56 302.19 L583.3 303.7 L586.3 303.7 L587.04 302.19 L587.75 300.68 L588.42 299.16 L589.07 297.65 L589.74 296.14 L590.43 294.63 L591.14 293.12 L591.85 291.61 L592.56 290.09 L593.27 288.58 L593.99 287.07 L594.68 285.56 L595.28 284.05 L595.83 282.53 L596.36 281.02 L596.83 279.51 L597.21 278 L597.48 276.49 L597.71 274.97 L597.91 273.46 L598.05 271.95 L598.1 270.44 L598.05 268.93 L597.92 267.42 L597.72 265.9 L597.46 264.39 L597.17 262.88 L596.87 261.37 L596.57 259.86 L596.22 258.34 L595.81 256.83 L595.34 255.32 L594.86 253.81 L594.39 252.3 L593.94 250.78 L593.48 249.27 L593.02 247.76 L592.54 246.25 L592.05 244.74 L591.53 243.23 L590.97 241.71 L590.38 240.2 L589.79 238.69 L589.22 237.18 L588.69 235.67 L588.15 234.15 L587.62 232.64 L587.12 231.13 L586.68 229.62 L586.32 228.11 L586.04 226.59 L585.79 225.08 L585.58 223.57 L585.4 222.06 L585.26 220.55 L585.14 219.04 L585.03 217.52 L584.95 216.01 L584.9 214.5Z" fill="#FF0000" stroke="#3a0000" stroke-width="0.45" stroke-linejoin="round"/>
<line x1="584.8" y1="215" x2="584.8" y2="301.7" stroke="#200" stroke-width="0.35"/>
<rect x="583.65" y="258.1" width="2.3" height="23.2" fill="#000"/>
<circle cx="584.8" cy="269.6" r="1.25" fill="#fff"/>
<path d="M617.7 218 L617.57 219.74 L617.41 221.47 L617.22 223.21 L617.01 224.95 L616.76 226.69 L616.48 228.42 L616.16 230.16 L615.82 231.9 L615.45 233.64 L615.03 235.37 L614.59 237.11 L614.12 238.85 L613.64 240.58 L613.14 242.32 L612.62 244.06 L612.06 245.8 L611.47 247.53 L610.81 249.27 L610.08 251.01 L609.3 252.75 L608.5 254.48 L607.7 256.22 L606.8 257.96 L605.87 259.69 L605.15 261.43 L604.74 263.17 L604.5 264.91 L604.72 266.64 L605.33 268.38 L606.05 270.12 L606.96 271.86 L608.11 273.59 L609.27 275.33 L610.23 277.07 L610.99 278.81 L611.67 280.54 L612.29 282.28 L612.88 284.02 L613.45 285.75 L614.02 287.49 L614.58 289.23 L615.09 290.97 L615.53 292.7 L615.88 294.44 L616.18 296.18 L616.45 297.92 L616.69 299.65 L616.89 301.39 L617.04 303.13 L617.15 304.86 L617.23 306.6 L617.3 308.34 L617.35 310.08 L617.41 311.81 L617.47 313.55 L617.53 315.29 L617.59 317.03 L617.65 318.76 L617.7 320.5 L617.9 320.5 L617.95 318.76 L618.01 317.03 L618.07 315.29 L618.13 313.55 L618.19 311.81 L618.25 310.08 L618.3 308.34 L618.37 306.6 L618.45 304.86 L618.56 303.13 L618.71 301.39 L618.91 299.65 L619.15 297.92 L619.42 296.18 L619.72 294.44 L620.07 292.7 L620.51 290.97 L621.02 289.23 L621.58 287.49 L622.15 285.75 L622.72 284.02 L623.31 282.28 L623.93 280.54 L624.61 278.81 L625.37 277.07 L626.33 275.33 L627.49 273.59 L628.64 271.86 L629.55 270.12 L630.27 268.38 L630.88 266.64 L631.1 264.91 L630.86 263.17 L630.45 261.43 L629.73 259.69 L628.8 257.96 L627.9 256.22 L627.1 254.48 L626.3 252.75 L625.52 251.01 L624.79 249.27 L624.13 247.53 L623.54 245.8 L622.98 244.06 L622.46 242.32 L621.96 240.58 L621.48 238.85 L621.01 237.11 L620.57 235.37 L620.15 233.64 L619.78 231.9 L619.44 230.16 L619.12 228.42 L618.84 226.69 L618.59 224.95 L618.38 223.21 L618.19 221.47 L618.03 219.74 L617.9 218Z" fill="#FF0000" stroke="#3a0000" stroke-width="0.45" stroke-linejoin="round"/>
<line x1="617.8" y1="218.5" x2="617.8" y2="318.5" stroke="#200" stroke-width="0.35"/>
<rect x="616.65" y="257.2" width="2.3" height="19.1" fill="#000"/>
<circle cx="617.8" cy="265.7" r="1.25" fill="#fff"/>
<path d="M647.5 239.5 L647.08 240.46 L646.67 241.43 L646.26 242.39 L645.85 243.36 L645.45 244.32 L645.05 245.29 L644.66 246.25 L644.26 247.22 L643.86 248.18 L643.44 249.14 L643 250.11 L642.56 251.07 L642.11 252.04 L641.65 253 L641.19 253.97 L640.73 254.93 L640.25 255.89 L639.74 256.86 L639.24 257.82 L638.77 258.79 L638.38 259.75 L638.07 260.72 L637.75 261.68 L637.48 262.65 L637.28 263.61 L637.2 264.57 L637.23 265.54 L637.32 266.5 L637.45 267.47 L637.61 268.43 L637.77 269.4 L638.02 270.36 L638.33 271.33 L638.69 272.29 L639.06 273.25 L639.43 274.22 L639.76 275.18 L640.09 276.15 L640.42 277.11 L640.75 278.08 L641.07 279.04 L641.39 280.01 L641.7 280.97 L641.98 281.93 L642.25 282.9 L642.5 283.86 L642.74 284.83 L642.97 285.79 L643.2 286.76 L643.43 287.72 L643.67 288.68 L643.9 289.65 L644.13 290.61 L644.36 291.58 L644.59 292.54 L644.82 293.51 L645.05 294.47 L645.27 295.44 L645.5 296.4 L655.5 296.4 L655.73 295.44 L655.95 294.47 L656.18 293.51 L656.41 292.54 L656.64 291.58 L656.87 290.61 L657.1 289.65 L657.33 288.68 L657.57 287.72 L657.8 286.76 L658.03 285.79 L658.26 284.83 L658.5 283.86 L658.75 282.9 L659.02 281.93 L659.3 280.97 L659.61 280.01 L659.93 279.04 L660.25 278.08 L660.58 277.11 L660.91 276.15 L661.24 275.18 L661.57 274.22 L661.94 273.25 L662.31 272.29 L662.67 271.33 L662.98 270.36 L663.23 269.4 L663.39 268.43 L663.55 267.47 L663.68 266.5 L663.77 265.54 L663.8 264.57 L663.72 263.61 L663.52 262.65 L663.25 261.68 L662.93 260.72 L662.62 259.75 L662.23 258.79 L661.76 257.82 L661.26 256.86 L660.75 255.89 L660.27 254.93 L659.81 253.97 L659.35 253 L658.89 252.04 L658.44 251.07 L658 250.11 L657.56 249.14 L657.14 248.18 L656.74 247.22 L656.34 246.25 L655.95 245.29 L655.55 244.32 L655.15 243.36 L654.74 242.39 L654.33 241.43 L653.92 240.46 L653.5 239.5Z" fill="#FF0000" stroke="#3a0000" stroke-width="0.45" stroke-linejoin="round"/>
<line x1="650.5" y1="240" x2="650.5" y2="294.4" stroke="#200" stroke-width="0.35"/>
<rect x="649.35" y="259.5" width="2.3" height="21.8" fill="#000"/>
<circle cx="650.5" cy="267.2" r="1.25" fill="#fff"/>
</g>
<g font-family="Liberation Sans, Arial, Helvetica, sans-serif">
<rect x="67.3" y="377.6" width="126.3" height="108.4" fill="#fff" stroke="#555" stroke-width="0.8"/>
<line x1="67.1" y1="486" x2="67.1" y2="489.1" stroke="#444" stroke-width="0.6"/>
<text x="67.1" y="496.6" font-size="4.7" text-anchor="middle" fill="#222" stroke="#222" stroke-width="0">0</text>
<line x1="86.48" y1="486" x2="86.48" y2="489.1" stroke="#444" stroke-width="0.6"/>
<text x="86.48" y="496.6" font-size="4.7" text-anchor="middle" fill="#222" stroke="#222" stroke-width="0">20</text>
<line x1="105.86" y1="486" x2="105.86" y2="489.1" stroke="#444" stroke-width="0.6"/>
<text x="105.86" y="496.6" font-size="4.7" text-anchor="middle" fill="#222" stroke="#222" stroke-width="0">40</text>
<line x1="125.24" y1="486" x2="125.24" y2="489.1" stroke="#444" stroke-width="0.6"/>
<text x="125.24" y="496.6" font-size="4.7" text-anchor="middle" fill="#222" stroke="#222" stroke-width="0">60</text>
<line x1="144.62" y1="486" x2="144.62" y2="489.1" stroke="#444" stroke-width="0.6"/>
<text x="144.62" y="496.6" font-size="4.7" text-anchor="middle" fill="#222" stroke="#222" stroke-width="0">80</text>
<line x1="164" y1="486" x2="164" y2="489.1" stroke="#444" stroke-width="0.6"/>
<text x="164" y="496.6" font-size="4.7" text-anchor="middle" fill="#222" stroke="#222" stroke-width="0">100</text>
<line x1="183.38" y1="486" x2="183.38" y2="489.1" stroke="#444" stroke-width="0.6"/>
<text x="183.38" y="496.6" font-size="4.7" text-anchor="middle" fill="#222" stroke="#222" stroke-width="0">120</text>
<line x1="64" y1="481.9" x2="67.3" y2="481.9" stroke="#444" stroke-width="0.6"/>
<text x="59.6" y="481.9" font-size="4.5" text-anchor="middle" transform="rotate(-90 59.6 481.9)" fill="#222" stroke="#222" stroke-width="0">0.0</text>
<line x1="64" y1="461.78" x2="67.3" y2="461.78" stroke="#444" stroke-width="0.6"/>
<text x="59.6" y="461.78" font-size="4.5" text-anchor="middle" transform="rotate(-90 59.6 461.78)" fill="#222" stroke="#222" stroke-width="0">0.2</text>
<line x1="64" y1="441.66" x2="67.3" y2="441.66" stroke="#444" stroke-width="0.6"/>
<text x="59.6" y="441.66" font-size="4.5" text-anchor="middle" transform="rotate(-90 59.6 441.66)" fill="#222" stroke="#222" stroke-width="0">0.4</text>
<line x1="64" y1="421.54" x2="67.3" y2="421.54" stroke="#444" stroke-width="0.6"/>
<text x="59.6" y="421.54" font-size="4.5" text-anchor="middle" transform="rotate(-90 59.6 421.54)" fill="#222" stroke="#222" stroke-width="0">0.6</text>
<line x1="64" y1="401.42" x2="67.3" y2="401.42" stroke="#444" stroke-width="0.6"/>
<text x="59.6" y="401.42" font-size="4.5" text-anchor="middle" transform="rotate(-90 59.6 401.42)" fill="#222" stroke="#222" stroke-width="0">0.8</text>
<line x1="64" y1="381.3" x2="67.3" y2="381.3" stroke="#444" stroke-width="0.6"/>
<text x="59.6" y="381.3" font-size="4.5" text-anchor="middle" transform="rotate(-90 59.6 381.3)" fill="#222" stroke="#222" stroke-width="0">1.0</text>
<text x="130.4" y="374.8" font-size="7.7" text-anchor="middle" fill="#111" stroke="#111" stroke-width="0">Overall Survival</text>
<text x="130.4" y="505.1" font-size="7" text-anchor="middle" fill="#111" stroke="#111" stroke-width="0">Months</text>
<text x="49.1" y="431.5" font-size="6.3" text-anchor="middle" transform="rotate(-90 49.1 431.5)" fill="#111" stroke="#111" stroke-width="0">Percent survival</text>
<path d="M67.1 381.3 H68.71 V381.97 H70.33 V382.64 H71.94 V383.31 H73.56 V385.66 H75.17 V388.01 H76.79 V390.35 H78.41 V392.7 H80.02 V395.05 H81.63 V397.4 H83.25 V399.74 H84.86 V402.09 H86.48 V404.44 H88.09 V405.44 H89.71 V406.45 H91.32 V407.46 H92.94 V408.46 H94.55 V409.47 H96.17 V410.47 H97.78 V411.31 H99.4 V412.15 H101.01 V412.99 H102.63 V413.83 H104.25 V414.67 H105.86 V415.5 H123.3 V415.5 H123.79 V419.53 H188.22 V419.53" fill="none" stroke="#3B3BDB" stroke-width="0.55" stroke-dasharray="1 0.8" opacity="0.7"/>
<path d="M67.1 381.3 H68.71 V384.65 H70.33 V388.01 H71.94 V391.36 H73.56 V396.05 H75.17 V400.75 H76.79 V405.44 H78.41 V408.8 H80.02 V412.15 H81.63 V415.5 H83.25 V418.52 H84.86 V421.54 H86.48 V424.56 H88.09 V425.73 H89.71 V426.91 H91.32 V428.08 H92.94 V429.25 H94.55 V430.43 H96.17 V431.6 H97.78 V432.94 H99.4 V434.28 H101.01 V435.62 H102.63 V436.97 H104.25 V438.31 H105.86 V439.65 H122.33 V439.65 H123.79 V456.25 H188.22 V456.25" fill="none" stroke="#3B3BDB" stroke-width="0.55" stroke-dasharray="1 0.8" opacity="0.7"/>
<path d="M67.1 381.3 H68.71 V382.64 H70.33 V383.98 H71.94 V385.32 H73.56 V388.68 H75.17 V392.03 H76.79 V395.38 H78.41 V399.74 H80.02 V404.1 H81.63 V408.46 H83.25 V412.49 H84.86 V416.51 H86.48 V420.53 H88.09 V422.38 H89.71 V424.22 H91.32 V426.07 H92.94 V427.91 H94.55 V429.76 H96.17 V431.6 H97.68 V431.82 H99.18 V432.05 H100.69 V432.27 H102.2 V432.49 H103.71 V432.72 H105.21 V432.94 H106.72 V433.16 H108.23 V433.39 H109.74 V433.61 H110.7 V437.64 H182.41 V437.64" fill="none" stroke="#E03C3C" stroke-width="0.55" stroke-dasharray="1 0.8" opacity="0.7"/>
<path d="M67.1 381.3 H68.71 V385.32 H70.33 V389.35 H71.94 V393.37 H73.56 V399.41 H75.17 V405.44 H76.79 V411.48 H78.41 V416.51 H80.02 V421.54 H81.63 V426.57 H83.25 V430.59 H84.86 V434.62 H86.48 V438.64 H87.93 V440.65 H89.39 V442.67 H90.84 V444.68 H92.29 V446.69 H93.75 V448.7 H95.2 V450.71 H109.74 V450.71 H110.7 V456.75 H125.24 V456.75 H126.21 V460.27 H135.9 V460.27 H136.87 V465.8 H138.32 V465.8 H138.81 V476.17 H182.41 V476.17" fill="none" stroke="#E03C3C" stroke-width="0.55" stroke-dasharray="1 0.8" opacity="0.7"/>
<path d="M67.1 381.3 H68.55 V382.81 H70.01 V384.32 H71.46 V386.33 H72.91 V388.34 H74.3 V391.53 H75.69 V394.71 H77.08 V397.9 H78.87 V401.67 H80.67 V405.44 H82.12 V407.63 H83.57 V409.82 H85.03 V412.01 H86.48 V414.2 H88.09 V415.14 H89.71 V416.07 H91.32 V417.01 H92.78 V417.89 H94.23 V418.77 H95.69 V419.65 H97.14 V420.53 H98.75 V421.71 H100.37 V422.88 H101.98 V424.06 H103.92 V426.32 H105.86 V428.58 H121.85 V428.58 H122.33 V435.12 H123.79 V435.12 H124.27 V441.96 H189.1 V441.96" fill="none" stroke="#3B3BDB" stroke-width="1.25"/>
<path d="M67.1 381.3 H68.55 V383.31 H70.01 V385.32 H71.46 V388.34 H72.91 V391.36 H74.3 V395.38 H75.69 V399.41 H77.08 V403.43 H78.6 V408.13 H80.12 V412.82 H81.63 V417.52 H83.25 V421.54 H84.86 V425.56 H86.48 V429.59 H88.42 V432.61 H90.36 V435.62 H92.1 V437.74 H93.84 V439.85 H95.59 V441.96 H109.74 V441.96 H110.7 V447.7 H125.24 V447.7 H126.21 V451.12 H135.51 V451.12 H136.38 V457.76 H138.32 V457.76 H138.81 V465.4 H182.41 V465.4" fill="none" stroke="#E03C3C" stroke-width="1.25"/>
<path d="M88.42 413.64v3M90.36 414.57v3M92.29 415.51v3M94.23 417.27v3M96.17 418.15v3M98.11 419.03v3M100.05 420.21v3M101.98 422.56v3M103.92 424.82v3M105.86 427.08v3M106.83 427.08v3M107.8 427.08v3M109.74 427.08v3M111.67 427.08v3M113.61 427.08v3M127.18 440.46v3M130.08 440.46v3M140.74 440.46v3M170.78 440.46v3M188.22 440.46v3" stroke="#3B3BDB" stroke-width="0.65" fill="none"/>
<path d="M90.36 434.12v3M92.29 436.24v3M94.23 438.35v3M96.17 440.46v3M98.11 440.46v3M100.05 440.46v3M101.98 440.46v3M103.92 440.46v3M105.86 440.46v3M107.8 440.46v3M112.64 446.2v3M115.55 446.2v3M120.39 446.2v3M123.3 446.2v3M128.15 449.62v3M131.05 449.62v3M134.93 449.62v3M181.44 463.9v3M182.41 463.9v3" stroke="#E03C3C" stroke-width="0.65" fill="none"/>
<line x1="135.6" y1="382.3" x2="146.1" y2="382.3" stroke="#3B3BDB" stroke-width="0.9"/>
<line x1="135.6" y1="386.9" x2="146.1" y2="386.9" stroke="#EE7777" stroke-width="1"/>
<text x="148.2" y="384.2" font-size="5.25" text-anchor="start" fill="#111" stroke="#111" stroke-width="0">Low MLH1 Group</text>
<text x="148.2" y="388.7" font-size="5.25" text-anchor="start" fill="#111" stroke="#111" stroke-width="0">High MLH1 Group</text>
<text x="189.6" y="394.7" font-size="5.25" text-anchor="end" fill="#111" stroke="#111" stroke-width="0">Logrank p=0.01</text>
<text x="189.6" y="400.1" font-size="5.25" text-anchor="end" fill="#111" stroke="#111" stroke-width="0">HR(high)=1.5</text>
<text x="189.6" y="405.9" font-size="5.25" text-anchor="end" fill="#111" stroke="#111" stroke-width="0">p(HR)=0.011</text>
<text x="189.6" y="411.7" font-size="5.25" text-anchor="end" fill="#111" stroke="#111" stroke-width="0">n(high)=192</text>
<text x="189.6" y="417.4" font-size="5.25" text-anchor="end" fill="#111" stroke="#111" stroke-width="0">n(low)=191</text>
<rect x="228.6" y="377.6" width="125.8" height="108.4" fill="#fff" stroke="#555" stroke-width="0.8"/>
<line x1="228.4" y1="486" x2="228.4" y2="489.1" stroke="#444" stroke-width="0.6"/>
<text x="228.4" y="496.6" font-size="4.7" text-anchor="middle" fill="#222" stroke="#222" stroke-width="0">0</text>
<line x1="247.78" y1="486" x2="247.78" y2="489.1" stroke="#444" stroke-width="0.6"/>
<text x="247.78" y="496.6" font-size="4.7" text-anchor="middle" fill="#222" stroke="#222" stroke-width="0">20</text>
<line x1="267.16" y1="486" x2="267.16" y2="489.1" stroke="#444" stroke-width="0.6"/>
<text x="267.16" y="496.6" font-size="4.7" text-anchor="middle" fill="#222" stroke="#222" stroke-width="0">40</text>
<line x1="286.54" y1="486" x2="286.54" y2="489.1" stroke="#444" stroke-width="0.6"/>
<text x="286.54" y="496.6" font-size="4.7" text-anchor="middle" fill="#222" stroke="#222" stroke-width="0">60</text>
<line x1="305.92" y1="486" x2="305.92" y2="489.1" stroke="#444" stroke-width="0.6"/>
<text x="305.92" y="496.6" font-size="4.7" text-anchor="middle" fill="#222" stroke="#222" stroke-width="0">80</text>
<line x1="325.3" y1="486" x2="325.3" y2="489.1" stroke="#444" stroke-width="0.6"/>
<text x="325.3" y="496.6" font-size="4.7" text-anchor="middle" fill="#222" stroke="#222" stroke-width="0">100</text>
<line x1="344.68" y1="486" x2="344.68" y2="489.1" stroke="#444" stroke-width="0.6"/>
<text x="344.68" y="496.6" font-size="4.7" text-anchor="middle" fill="#222" stroke="#222" stroke-width="0">120</text>
<line x1="225.3" y1="481.9" x2="228.6" y2="481.9" stroke="#444" stroke-width="0.6"/>
<text x="221.2" y="481.9" font-size="4.5" text-anchor="middle" transform="rotate(-90 221.2 481.9)" fill="#222" stroke="#222" stroke-width="0">0.0</text>
<line x1="225.3" y1="461.78" x2="228.6" y2="461.78" stroke="#444" stroke-width="0.6"/>
<text x="221.2" y="461.78" font-size="4.5" text-anchor="middle" transform="rotate(-90 221.2 461.78)" fill="#222" stroke="#222" stroke-width="0">0.2</text>
<line x1="225.3" y1="441.66" x2="228.6" y2="441.66" stroke="#444" stroke-width="0.6"/>
<text x="221.2" y="441.66" font-size="4.5" text-anchor="middle" transform="rotate(-90 221.2 441.66)" fill="#222" stroke="#222" stroke-width="0">0.4</text>
<line x1="225.3" y1="421.54" x2="228.6" y2="421.54" stroke="#444" stroke-width="0.6"/>
<text x="221.2" y="421.54" font-size="4.5" text-anchor="middle" transform="rotate(-90 221.2 421.54)" fill="#222" stroke="#222" stroke-width="0">0.6</text>
<line x1="225.3" y1="401.42" x2="228.6" y2="401.42" stroke="#444" stroke-width="0.6"/>
<text x="221.2" y="401.42" font-size="4.5" text-anchor="middle" transform="rotate(-90 221.2 401.42)" fill="#222" stroke="#222" stroke-width="0">0.8</text>
<line x1="225.3" y1="381.3" x2="228.6" y2="381.3" stroke="#444" stroke-width="0.6"/>
<text x="221.2" y="381.3" font-size="4.5" text-anchor="middle" transform="rotate(-90 221.2 381.3)" fill="#222" stroke="#222" stroke-width="0">1.0</text>
<text x="291.3" y="374.8" font-size="7.7" text-anchor="middle" fill="#111" stroke="#111" stroke-width="0">Overall Survival</text>
<text x="291.3" y="505.1" font-size="7" text-anchor="middle" fill="#111" stroke="#111" stroke-width="0">Months</text>
<text x="210.5" y="431.5" font-size="6.3" text-anchor="middle" transform="rotate(-90 210.5 431.5)" fill="#111" stroke="#111" stroke-width="0">Percent survival</text>
<path d="M228.4 381.3 H230.02 V382.64 H231.63 V383.98 H233.25 V385.32 H234.86 V388.68 H236.47 V392.03 H238.09 V395.38 H239.71 V398.74 H241.32 V402.09 H242.94 V405.44 H244.55 V408.13 H246.16 V410.81 H247.78 V413.49 H249.48 V416.26 H251.17 V419.02 H252.87 V421.79 H254.56 V424.56 H256.14 V425.56 H257.71 V426.57 H259.29 V427.58 H260.86 V428.58 H262.44 V429.59 H264.01 V430.59 H265.59 V431.6 H267.16 V432.61 H284.6 V432.61 H286.54 V434.62 H288.48 V436.63 H349.52 V436.63" fill="none" stroke="#3B3BDB" stroke-width="0.55" stroke-dasharray="1 0.8" opacity="0.7"/>
<path d="M228.4 381.3 H230.02 V384.99 H231.63 V388.68 H233.25 V392.37 H234.86 V398.07 H236.47 V403.77 H238.09 V409.47 H239.71 V413.49 H241.32 V417.52 H242.94 V421.54 H244.55 V424.56 H246.16 V427.58 H247.78 V430.59 H249.48 V433.36 H251.17 V436.13 H252.87 V438.89 H254.56 V441.66 H256.14 V442.67 H257.71 V443.67 H259.29 V444.68 H260.86 V445.68 H262.44 V446.69 H264.01 V447.7 H265.59 V448.7 H267.16 V449.71 H284.6 V449.71 H286.54 V455.24 H288.48 V460.77 H297.2 V460.77 H298.17 V466.81 H349.52 V466.81" fill="none" stroke="#3B3BDB" stroke-width="0.55" stroke-dasharray="1 0.8" opacity="0.7"/>
<path d="M228.4 381.3 H230.02 V381.64 H231.63 V381.97 H233.25 V382.31 H234.86 V384.32 H236.47 V386.33 H238.09 V388.34 H239.71 V391.36 H241.32 V394.38 H242.94 V397.4 H244.55 V400.75 H246.16 V404.1 H247.78 V407.46 H249.4 V409.3 H251.01 V411.14 H252.62 V412.99 H254.24 V414.83 H255.86 V416.68 H257.47 V418.52 H259.08 V419.02 H260.7 V419.53 H262.31 V420.03 H263.93 V420.53 H265.55 V421.04 H267.16 V421.54 H268.71 V421.89 H270.26 V422.24 H271.81 V422.6 H273.36 V422.95 H274.91 V423.3 H276.46 V423.65 H278.01 V424 H279.56 V424.36 H281.11 V424.71 H282.66 V425.06 H300.11 V425.06 H300.59 V398.4 H349.52 V398.4" fill="none" stroke="#E03C3C" stroke-width="0.55" stroke-dasharray="1 0.8" opacity="0.7"/>
<path d="M228.4 381.3 H230.02 V383.65 H231.63 V385.99 H233.25 V388.34 H234.86 V392.03 H236.47 V395.72 H238.09 V399.41 H239.71 V403.43 H241.32 V407.46 H242.94 V411.48 H244.55 V415.17 H246.16 V418.86 H247.78 V422.55 H249.4 V424.56 H251.01 V426.57 H252.62 V428.58 H254.24 V430.59 H255.86 V432.61 H257.47 V434.62 H259.08 V435.29 H260.7 V435.96 H262.31 V436.63 H263.93 V437.3 H265.55 V437.97 H267.16 V438.64 H268.86 V440.4 H270.55 V442.16 H272.25 V443.92 H273.94 V445.68 H275.4 V447.03 H276.85 V448.37 H278.3 V449.71 H279.76 V451.05 H281.21 V452.39 H282.66 V453.73 H300.11 V453.73 H300.59 V477.88 H343.71 V477.88" fill="none" stroke="#E03C3C" stroke-width="0.55" stroke-dasharray="1 0.8" opacity="0.7"/>
<path d="M228.4 381.3 H229.85 V383.81 H231.31 V386.33 H232.76 V389.35 H234.21 V392.37 H236.15 V397.4 H238.09 V402.43 H239.71 V406.11 H241.32 V409.8 H242.94 V413.49 H244.55 V416.34 H246.16 V419.19 H247.78 V422.04 H249.43 V424.94 H251.07 V427.83 H252.72 V430.72 H254.37 V433.61 H255.87 V434.87 H257.37 V436.13 H258.88 V437.38 H260.38 V438.64 H262.07 V439.4 H263.77 V440.15 H265.46 V440.91 H267.16 V441.66 H284.6 V441.66 H285.57 V445.68 H287.02 V448.2 H288.48 V450.71 H297.2 V450.71 H298.17 V456.25 H350.4 V456.25" fill="none" stroke="#3B3BDB" stroke-width="1.25"/>
<path d="M228.4 381.3 H229.85 V382.31 H231.31 V383.31 H232.76 V384.82 H234.21 V386.33 H236.15 V389.85 H238.09 V393.37 H239.71 V397.06 H241.32 V400.75 H242.94 V404.44 H244.55 V407.96 H246.16 V411.48 H247.78 V415 H249.4 V417.52 H251.01 V420.03 H252.62 V422.55 H254.24 V423.89 H255.86 V425.23 H257.47 V426.57 H258.92 V427.07 H260.38 V427.58 H261.83 V428.08 H263.28 V428.58 H264.74 V428.88 H266.19 V429.19 H267.64 V429.49 H269.1 V429.79 H270.07 V432.91 H274.43 V432.91 H274.91 V436.93 H283.15 V436.93 H283.63 V441.36 H300.11 V441.36 H300.59 V462.28 H343.71 V462.28" fill="none" stroke="#E03C3C" stroke-width="1.25"/>
<path d="M255.53 432.11v3M257.47 434.63v3M259.41 435.88v3M261.35 437.14v3M263.28 437.9v3M265.22 438.65v3M267.16 440.16v3M269.1 440.16v3M272.97 440.16v3M276.85 440.16v3M281.69 440.16v3M284.6 440.16v3M302.04 454.75v3M332.08 454.75v3M343.71 454.75v3M349.52 454.75v3" stroke="#3B3BDB" stroke-width="0.65" fill="none"/>
<path d="M249.72 416.02v3M251.66 418.53v3M253.59 421.05v3M255.53 422.39v3M257.47 425.07v3M259.41 425.57v3M261.35 426.08v3M263.28 427.08v3M265.22 427.38v3M267.16 427.69v3M269.1 428.29v3M271.04 431.41v3M282.66 435.43v3M288.48 439.86v3M292.35 439.86v3M294.29 439.86v3M296.23 439.86v3M342.74 460.78v3M343.71 460.78v3" stroke="#E03C3C" stroke-width="0.65" fill="none"/>
<line x1="297.2" y1="382.3" x2="307.7" y2="382.3" stroke="#3B3BDB" stroke-width="0.9"/>
<line x1="297.2" y1="386.9" x2="307.7" y2="386.9" stroke="#EE7777" stroke-width="1"/>
<text x="309.8" y="384.2" font-size="5.25" text-anchor="start" fill="#111" stroke="#111" stroke-width="0">Low MSH2 Group</text>
<text x="309.8" y="388.7" font-size="5.25" text-anchor="start" fill="#111" stroke="#111" stroke-width="0">High MSH2 Group</text>
<text x="351.2" y="394.7" font-size="5.25" text-anchor="end" fill="#111" stroke="#111" stroke-width="0">Logrank p=0.1</text>
<text x="351.2" y="400.1" font-size="5.25" text-anchor="end" fill="#111" stroke="#111" stroke-width="0">HR(high)=0.77</text>
<text x="351.2" y="405.9" font-size="5.25" text-anchor="end" fill="#111" stroke="#111" stroke-width="0">p(HR)=0.11</text>
<text x="351.2" y="411.7" font-size="5.25" text-anchor="end" fill="#111" stroke="#111" stroke-width="0">n(high)=192</text>
<text x="351.2" y="417.4" font-size="5.25" text-anchor="end" fill="#111" stroke="#111" stroke-width="0">n(low)=192</text>
<rect x="390.4" y="377.6" width="126.1" height="108.4" fill="#fff" stroke="#555" stroke-width="0.8"/>
<line x1="390.3" y1="486" x2="390.3" y2="489.1" stroke="#444" stroke-width="0.6"/>
<text x="390.3" y="496.6" font-size="4.7" text-anchor="middle" fill="#222" stroke="#222" stroke-width="0">0</text>
<line x1="409.68" y1="486" x2="409.68" y2="489.1" stroke="#444" stroke-width="0.6"/>
<text x="409.68" y="496.6" font-size="4.7" text-anchor="middle" fill="#222" stroke="#222" stroke-width="0">20</text>
<line x1="429.06" y1="486" x2="429.06" y2="489.1" stroke="#444" stroke-width="0.6"/>
<text x="429.06" y="496.6" font-size="4.7" text-anchor="middle" fill="#222" stroke="#222" stroke-width="0">40</text>
<line x1="448.44" y1="486" x2="448.44" y2="489.1" stroke="#444" stroke-width="0.6"/>
<text x="448.44" y="496.6" font-size="4.7" text-anchor="middle" fill="#222" stroke="#222" stroke-width="0">60</text>
<line x1="467.82" y1="486" x2="467.82" y2="489.1" stroke="#444" stroke-width="0.6"/>
<text x="467.82" y="496.6" font-size="4.7" text-anchor="middle" fill="#222" stroke="#222" stroke-width="0">80</text>
<line x1="487.2" y1="486" x2="487.2" y2="489.1" stroke="#444" stroke-width="0.6"/>
<text x="487.2" y="496.6" font-size="4.7" text-anchor="middle" fill="#222" stroke="#222" stroke-width="0">100</text>
<line x1="506.58" y1="486" x2="506.58" y2="489.1" stroke="#444" stroke-width="0.6"/>
<text x="506.58" y="496.6" font-size="4.7" text-anchor="middle" fill="#222" stroke="#222" stroke-width="0">120</text>
<line x1="387.1" y1="481.9" x2="390.4" y2="481.9" stroke="#444" stroke-width="0.6"/>
<text x="382.9" y="481.9" font-size="4.5" text-anchor="middle" transform="rotate(-90 382.9 481.9)" fill="#222" stroke="#222" stroke-width="0">0.0</text>
<line x1="387.1" y1="461.78" x2="390.4" y2="461.78" stroke="#444" stroke-width="0.6"/>
<text x="382.9" y="461.78" font-size="4.5" text-anchor="middle" transform="rotate(-90 382.9 461.78)" fill="#222" stroke="#222" stroke-width="0">0.2</text>
<line x1="387.1" y1="441.66" x2="390.4" y2="441.66" stroke="#444" stroke-width="0.6"/>
<text x="382.9" y="441.66" font-size="4.5" text-anchor="middle" transform="rotate(-90 382.9 441.66)" fill="#222" stroke="#222" stroke-width="0">0.4</text>
<line x1="387.1" y1="421.54" x2="390.4" y2="421.54" stroke="#444" stroke-width="0.6"/>
<text x="382.9" y="421.54" font-size="4.5" text-anchor="middle" transform="rotate(-90 382.9 421.54)" fill="#222" stroke="#222" stroke-width="0">0.6</text>
<line x1="387.1" y1="401.42" x2="390.4" y2="401.42" stroke="#444" stroke-width="0.6"/>
<text x="382.9" y="401.42" font-size="4.5" text-anchor="middle" transform="rotate(-90 382.9 401.42)" fill="#222" stroke="#222" stroke-width="0">0.8</text>
<line x1="387.1" y1="381.3" x2="390.4" y2="381.3" stroke="#444" stroke-width="0.6"/>
<text x="382.9" y="381.3" font-size="4.5" text-anchor="middle" transform="rotate(-90 382.9 381.3)" fill="#222" stroke="#222" stroke-width="0">1.0</text>
<text x="453.3" y="374.8" font-size="7.7" text-anchor="middle" fill="#111" stroke="#111" stroke-width="0">Overall Survival</text>
<text x="453.3" y="505.1" font-size="7" text-anchor="middle" fill="#111" stroke="#111" stroke-width="0">Months</text>
<text x="373.5" y="431.5" font-size="6.3" text-anchor="middle" transform="rotate(-90 373.5 431.5)" fill="#111" stroke="#111" stroke-width="0">Percent survival</text>
<path d="M390.3 381.3 H391.92 V381.97 H393.53 V382.64 H395.15 V383.31 H396.76 V385.99 H398.38 V388.68 H399.99 V391.36 H401.61 V394.71 H403.22 V398.07 H404.84 V401.42 H406.45 V404.77 H408.06 V408.13 H409.68 V411.48 H411.38 V413.49 H413.07 V415.5 H414.77 V417.52 H416.46 V419.53 H418.04 V420.16 H419.61 V420.79 H421.19 V421.41 H422.76 V422.04 H424.34 V422.67 H425.91 V423.3 H427.49 V423.93 H429.06 V424.56 H446.5 V424.56 H448.08 V424.43 H449.65 V424.31 H451.23 V424.18 H452.8 V424.06 H454.38 V423.93 H455.95 V423.8 H457.52 V423.68 H459.1 V423.55 H511.43 V423.55" fill="none" stroke="#3B3BDB" stroke-width="0.55" stroke-dasharray="1 0.8" opacity="0.7"/>
<path d="M390.3 381.3 H391.92 V384.32 H393.53 V387.34 H395.15 V390.35 H396.76 V395.05 H398.38 V399.74 H399.99 V404.44 H401.61 V408.8 H403.22 V413.16 H404.84 V417.52 H406.45 V420.87 H408.06 V424.22 H409.68 V427.58 H411.38 V429.84 H413.07 V432.1 H414.77 V434.37 H416.46 V436.63 H418.04 V437.26 H419.61 V437.89 H421.19 V438.52 H422.76 V439.14 H424.34 V439.77 H425.91 V440.4 H427.49 V441.03 H429.06 V441.66 H445.53 V441.66 H446.99 V449.71 H458.13 V449.71 H459.1 V458.26 H511.43 V458.26" fill="none" stroke="#3B3BDB" stroke-width="0.55" stroke-dasharray="1 0.8" opacity="0.7"/>
<path d="M390.3 381.3 H391.92 V382.31 H393.53 V383.31 H395.15 V384.32 H396.76 V387.34 H398.38 V390.35 H399.99 V393.37 H401.61 V396.73 H403.22 V400.08 H404.84 V403.43 H406.45 V406.45 H408.06 V409.47 H409.68 V412.49 H411.38 V415.25 H413.07 V418.02 H414.77 V420.79 H416.46 V423.55 H418.04 V424.56 H419.61 V425.56 H421.19 V426.57 H422.76 V427.58 H424.34 V428.58 H425.91 V429.59 H427.49 V430.59 H429.06 V431.6 H430.51 V433.11 H431.97 V434.62 H433.42 V436.13 H434.87 V437.64 H445.53 V437.64 H447.47 V441.16 H449.41 V444.68 H461.04 V444.68 H462.01 V424.06 H511.43 V424.06" fill="none" stroke="#E03C3C" stroke-width="0.55" stroke-dasharray="1 0.8" opacity="0.7"/>
<path d="M390.3 381.3 H391.92 V384.99 H393.53 V388.68 H395.15 V392.37 H396.76 V397.4 H398.38 V402.43 H399.99 V407.46 H401.61 V411.48 H403.22 V415.5 H404.84 V419.53 H406.45 V422.88 H408.06 V426.23 H409.68 V429.59 H411.38 V432.35 H413.07 V435.12 H414.77 V437.89 H416.46 V440.65 H418.04 V441.53 H419.61 V442.41 H421.19 V443.29 H422.76 V444.17 H424.34 V445.06 H425.91 V445.94 H427.49 V446.82 H429.06 V447.7 H430.51 V449.71 H431.97 V451.72 H433.42 V453.73 H434.87 V455.74 H445.53 V455.74 H447.47 V461.28 H449.41 V466.81 H461.04 V466.81 H462.01 V479.08 H505.61 V479.08" fill="none" stroke="#E03C3C" stroke-width="0.55" stroke-dasharray="1 0.8" opacity="0.7"/>
<path d="M390.3 381.3 H391.75 V382.81 H393.21 V384.32 H394.66 V386.83 H396.11 V389.35 H398.05 V393.62 H399.99 V397.9 H401.61 V401.76 H403.22 V405.61 H404.84 V409.47 H406.45 V412.82 H408.06 V416.17 H409.68 V419.53 H411.38 V421.79 H413.07 V424.06 H414.77 V426.32 H416.46 V428.58 H417.92 V429.34 H419.37 V430.09 H420.82 V430.85 H422.28 V431.6 H423.97 V432.1 H425.67 V432.61 H427.36 V433.11 H429.06 V433.61 H446.11 V433.61 H446.99 V438.64 H458.13 V438.64 H459.1 V445.68 H512.3 V445.68" fill="none" stroke="#3B3BDB" stroke-width="1.25"/>
<path d="M390.3 381.3 H391.75 V383.31 H393.21 V385.32 H394.66 V387.84 H396.11 V390.35 H398.05 V395.38 H399.99 V400.41 H401.61 V404.1 H403.22 V407.79 H404.84 V411.48 H406.45 V414.5 H408.06 V417.52 H409.68 V420.53 H411.38 V423.43 H413.07 V426.32 H414.77 V429.21 H416.46 V432.1 H417.92 V433.23 H419.37 V434.37 H420.82 V435.5 H422.28 V436.63 H423.97 V437.38 H425.67 V438.14 H427.36 V438.89 H429.06 V439.65 H430.63 V441.41 H432.21 V443.17 H433.78 V444.93 H435.36 V446.69 H445.53 V446.69 H446.5 V451.72 H447.96 V453.98 H449.41 V456.25 H461.04 V456.25 H462.01 V469.63 H505.61 V469.63" fill="none" stroke="#E03C3C" stroke-width="1.25"/>
<path d="M417.43 427.08v3M419.37 428.59v3M421.31 429.35v3M423.25 430.1v3M425.18 430.6v3M427.12 431.11v3M429.06 432.11v3M431 432.11v3M433.91 432.11v3M436.81 432.11v3M440.69 432.11v3M444.56 432.11v3M450.38 437.14v3M454.25 437.14v3M460.07 444.18v3M463.94 444.18v3M493.98 444.18v3M505.61 444.18v3M511.43 444.18v3" stroke="#3B3BDB" stroke-width="0.65" fill="none"/>
<path d="M413.56 424.82v3M415.49 427.71v3M417.43 430.6v3M419.37 432.87v3M421.31 434v3M423.25 435.13v3M425.18 435.88v3M427.12 436.64v3M429.06 438.15v3M431 439.91v3M432.94 441.67v3M450.38 454.75v3M454.25 454.75v3M456.19 454.75v3M458.13 454.75v3M504.64 468.13v3M505.61 468.13v3" stroke="#E03C3C" stroke-width="0.65" fill="none"/>
<line x1="458.7" y1="382.3" x2="469.2" y2="382.3" stroke="#3B3BDB" stroke-width="0.9"/>
<line x1="458.7" y1="386.9" x2="469.2" y2="386.9" stroke="#EE7777" stroke-width="1"/>
<text x="471.3" y="384.2" font-size="5.25" text-anchor="start" fill="#111" stroke="#111" stroke-width="0">Low MSH6 Group</text>
<text x="471.3" y="388.7" font-size="5.25" text-anchor="start" fill="#111" stroke="#111" stroke-width="0">High MSH6 Group</text>
<text x="512.7" y="394.7" font-size="5.25" text-anchor="end" fill="#111" stroke="#111" stroke-width="0">Logrank p=0.37</text>
<text x="512.7" y="400.1" font-size="5.25" text-anchor="end" fill="#111" stroke="#111" stroke-width="0">HR(high)=1.2</text>
<text x="512.7" y="405.9" font-size="5.25" text-anchor="end" fill="#111" stroke="#111" stroke-width="0">p(HR)=0.38</text>
<text x="512.7" y="411.7" font-size="5.25" text-anchor="end" fill="#111" stroke="#111" stroke-width="0">n(high)=192</text>
<text x="512.7" y="417.4" font-size="5.25" text-anchor="end" fill="#111" stroke="#111" stroke-width="0">n(low)=191</text>
<rect x="545.1" y="377.6" width="126" height="108.4" fill="#fff" stroke="#555" stroke-width="0.8"/>
<line x1="544.9" y1="486" x2="544.9" y2="489.1" stroke="#444" stroke-width="0.6"/>
<text x="544.9" y="496.6" font-size="4.7" text-anchor="middle" fill="#222" stroke="#222" stroke-width="0">0</text>
<line x1="564.28" y1="486" x2="564.28" y2="489.1" stroke="#444" stroke-width="0.6"/>
<text x="564.28" y="496.6" font-size="4.7" text-anchor="middle" fill="#222" stroke="#222" stroke-width="0">20</text>
<line x1="583.66" y1="486" x2="583.66" y2="489.1" stroke="#444" stroke-width="0.6"/>
<text x="583.66" y="496.6" font-size="4.7" text-anchor="middle" fill="#222" stroke="#222" stroke-width="0">40</text>
<line x1="603.04" y1="486" x2="603.04" y2="489.1" stroke="#444" stroke-width="0.6"/>
<text x="603.04" y="496.6" font-size="4.7" text-anchor="middle" fill="#222" stroke="#222" stroke-width="0">60</text>
<line x1="622.42" y1="486" x2="622.42" y2="489.1" stroke="#444" stroke-width="0.6"/>
<text x="622.42" y="496.6" font-size="4.7" text-anchor="middle" fill="#222" stroke="#222" stroke-width="0">80</text>
<line x1="641.8" y1="486" x2="641.8" y2="489.1" stroke="#444" stroke-width="0.6"/>
<text x="641.8" y="496.6" font-size="4.7" text-anchor="middle" fill="#222" stroke="#222" stroke-width="0">100</text>
<line x1="661.18" y1="486" x2="661.18" y2="489.1" stroke="#444" stroke-width="0.6"/>
<text x="661.18" y="496.6" font-size="4.7" text-anchor="middle" fill="#222" stroke="#222" stroke-width="0">120</text>
<line x1="541.8" y1="481.9" x2="545.1" y2="481.9" stroke="#444" stroke-width="0.6"/>
<text x="536.5" y="481.9" font-size="4.5" text-anchor="middle" transform="rotate(-90 536.5 481.9)" fill="#222" stroke="#222" stroke-width="0">0.0</text>
<line x1="541.8" y1="461.78" x2="545.1" y2="461.78" stroke="#444" stroke-width="0.6"/>
<text x="536.5" y="461.78" font-size="4.5" text-anchor="middle" transform="rotate(-90 536.5 461.78)" fill="#222" stroke="#222" stroke-width="0">0.2</text>
<line x1="541.8" y1="441.66" x2="545.1" y2="441.66" stroke="#444" stroke-width="0.6"/>
<text x="536.5" y="441.66" font-size="4.5" text-anchor="middle" transform="rotate(-90 536.5 441.66)" fill="#222" stroke="#222" stroke-width="0">0.4</text>
<line x1="541.8" y1="421.54" x2="545.1" y2="421.54" stroke="#444" stroke-width="0.6"/>
<text x="536.5" y="421.54" font-size="4.5" text-anchor="middle" transform="rotate(-90 536.5 421.54)" fill="#222" stroke="#222" stroke-width="0">0.6</text>
<line x1="541.8" y1="401.42" x2="545.1" y2="401.42" stroke="#444" stroke-width="0.6"/>
<text x="536.5" y="401.42" font-size="4.5" text-anchor="middle" transform="rotate(-90 536.5 401.42)" fill="#222" stroke="#222" stroke-width="0">0.8</text>
<line x1="541.8" y1="381.3" x2="545.1" y2="381.3" stroke="#444" stroke-width="0.6"/>
<text x="536.5" y="381.3" font-size="4.5" text-anchor="middle" transform="rotate(-90 536.5 381.3)" fill="#222" stroke="#222" stroke-width="0">1.0</text>
<text x="607.9" y="374.8" font-size="7.7" text-anchor="middle" fill="#111" stroke="#111" stroke-width="0">Overall Survival</text>
<text x="607.9" y="505.1" font-size="7" text-anchor="middle" fill="#111" stroke="#111" stroke-width="0">Months</text>
<text x="527.6" y="431.5" font-size="6.3" text-anchor="middle" transform="rotate(-90 527.6 431.5)" fill="#111" stroke="#111" stroke-width="0">Percent survival</text>
<path d="M544.9 381.3 H546.51 V382.31 H548.13 V383.31 H549.75 V384.32 H551.36 V387.34 H552.98 V390.35 H554.59 V393.37 H556.2 V396.39 H557.82 V399.41 H559.43 V402.43 H561.05 V405.44 H562.66 V408.46 H564.28 V411.48 H565.89 V413.16 H567.51 V414.83 H569.12 V416.51 H570.74 V418.19 H572.36 V419.86 H573.97 V421.54 H575.58 V422.21 H577.2 V422.88 H578.81 V423.55 H580.43 V424.22 H582.04 V424.89 H583.66 V425.56 H600.13 V425.56 H601.1 V430.59 H602.68 V430.47 H604.25 V430.34 H605.83 V430.22 H607.4 V430.09 H608.98 V429.97 H610.55 V429.84 H612.12 V429.71 H613.7 V429.59 H666.02 V429.59" fill="none" stroke="#3B3BDB" stroke-width="0.55" stroke-dasharray="1 0.8" opacity="0.7"/>
<path d="M544.9 381.3 H546.51 V384.65 H548.13 V388.01 H549.75 V391.36 H551.36 V396.73 H552.98 V402.09 H554.59 V407.46 H556.2 V411.14 H557.82 V414.83 H559.43 V418.52 H561.05 V421.54 H562.66 V424.56 H564.28 V427.58 H565.89 V429.42 H567.51 V431.26 H569.12 V433.11 H570.74 V434.95 H572.36 V436.8 H573.97 V438.64 H575.58 V439.48 H577.2 V440.32 H578.81 V441.16 H580.43 V442 H582.04 V442.83 H583.66 V443.67 H599.65 V443.67 H600.62 V454.74 H613.31 V454.74 H614.18 V462.79 H666.02 V462.79" fill="none" stroke="#3B3BDB" stroke-width="0.55" stroke-dasharray="1 0.8" opacity="0.7"/>
<path d="M544.9 381.3 H546.51 V381.97 H548.13 V382.64 H549.75 V383.31 H551.36 V386.33 H552.98 V389.35 H554.59 V392.37 H556.2 V395.72 H557.82 V399.07 H559.43 V402.43 H561.05 V405.78 H562.66 V409.13 H564.28 V412.49 H565.89 V414.5 H567.51 V416.51 H569.12 V418.52 H570.74 V420.53 H572.36 V422.55 H573.97 V424.56 H575.58 V425.4 H577.2 V426.23 H578.81 V427.07 H580.43 V427.91 H582.04 V428.75 H583.66 V429.59 H585.11 V430.59 H586.57 V431.6 H588.02 V432.61 H589.47 V433.61 H603.04 V433.61 H604.01 V436.63 H616.12 V436.63 H616.61 V411.48 H666.02 V411.48" fill="none" stroke="#E03C3C" stroke-width="0.55" stroke-dasharray="1 0.8" opacity="0.7"/>
<path d="M544.9 381.3 H546.51 V384.32 H548.13 V387.34 H549.75 V390.35 H551.36 V395.72 H552.98 V401.08 H554.59 V406.45 H556.2 V410.47 H557.82 V414.5 H559.43 V418.52 H561.05 V421.88 H562.66 V425.23 H564.28 V428.58 H565.89 V430.76 H567.51 V432.94 H569.12 V435.12 H570.74 V437.3 H572.36 V439.48 H573.97 V441.66 H575.58 V442.5 H577.2 V443.34 H578.81 V444.17 H580.43 V445.01 H582.04 V445.85 H583.66 V446.69 H585.11 V448.2 H586.57 V449.71 H588.02 V451.22 H589.47 V452.73 H602.46 V452.73 H603.04 V459.77 H616.12 V459.77 H616.61 V477.88 H659.24 V477.88" fill="none" stroke="#E03C3C" stroke-width="0.55" stroke-dasharray="1 0.8" opacity="0.7"/>
<path d="M544.9 381.3 H546.35 V383.31 H547.81 V385.32 H549.26 V387.84 H550.71 V390.35 H552.65 V395.38 H554.59 V400.41 H556.2 V403.77 H557.82 V407.12 H559.43 V410.47 H561.05 V413.49 H562.66 V416.51 H564.28 V419.53 H565.89 V421.54 H567.51 V423.55 H569.12 V425.56 H570.74 V427.07 H572.36 V428.58 H573.97 V430.09 H575.58 V430.85 H577.2 V431.6 H578.81 V432.35 H580.43 V433.11 H582.04 V433.86 H583.66 V434.62 H599.36 V434.62 H600.04 V439.45 H601.88 V439.45 H602.56 V444.38 H613.31 V444.38 H614.18 V450.21 H666.61 V450.21" fill="none" stroke="#3B3BDB" stroke-width="1.25"/>
<path d="M544.9 381.3 H546.35 V382.81 H547.81 V384.32 H549.26 V386.83 H550.71 V389.35 H552.65 V394.38 H554.59 V399.41 H556.2 V403.1 H557.82 V406.79 H559.43 V410.47 H561.05 V413.83 H562.66 V417.18 H564.28 V420.53 H565.89 V423.22 H567.51 V425.9 H569.12 V428.58 H570.74 V430.26 H572.36 V431.94 H573.97 V433.61 H575.58 V434.45 H577.2 V435.29 H578.81 V436.13 H580.43 V436.97 H582.04 V437.8 H583.66 V438.64 H585.11 V439.9 H586.57 V441.16 H588.02 V442.41 H589.47 V443.67 H602.46 V443.67 H603.04 V449.2 H616.12 V449.2 H616.61 V465.6 H659.24 V465.6" fill="none" stroke="#E03C3C" stroke-width="1.25"/>
<path d="M570.09 424.06v3M572.03 425.57v3M573.97 428.59v3M575.91 429.35v3M577.85 430.1v3M579.78 430.85v3M581.72 431.61v3M583.66 433.12v3M585.6 433.12v3M587.54 433.12v3M590.44 433.12v3M593.35 433.12v3M604.98 442.88v3M608.85 442.88v3M614.67 448.71v3M618.54 448.71v3M648.58 448.71v3M660.21 448.71v3M666.02 448.71v3" stroke="#3B3BDB" stroke-width="0.65" fill="none"/>
<path d="M568.16 424.4v3M570.09 427.08v3M572.03 428.76v3M573.97 432.11v3M575.91 432.95v3M577.85 433.79v3M579.78 434.63v3M581.72 435.47v3M583.66 437.14v3M585.6 438.4v3M587.54 439.66v3M604.98 447.7v3M606.92 447.7v3M608.85 447.7v3M610.79 447.7v3M612.73 447.7v3M659.24 464.1v3" stroke="#E03C3C" stroke-width="0.65" fill="none"/>
<line x1="614.3" y1="382.3" x2="624.8" y2="382.3" stroke="#3B3BDB" stroke-width="0.9"/>
<line x1="614.3" y1="386.9" x2="624.8" y2="386.9" stroke="#EE7777" stroke-width="1"/>
<text x="626.9" y="384.2" font-size="5.25" text-anchor="start" fill="#111" stroke="#111" stroke-width="0">Low PMS2 Group</text>
<text x="626.9" y="388.7" font-size="5.25" text-anchor="start" fill="#111" stroke="#111" stroke-width="0">High PMS2 Group</text>
<text x="668.3" y="394.7" font-size="5.25" text-anchor="end" fill="#111" stroke="#111" stroke-width="0">Logrank p=0.67</text>
<text x="668.3" y="400.1" font-size="5.25" text-anchor="end" fill="#111" stroke="#111" stroke-width="0">HR(high)=1.1</text>
<text x="668.3" y="405.9" font-size="5.25" text-anchor="end" fill="#111" stroke="#111" stroke-width="0">p(HR)=0.67</text>
<text x="668.3" y="411.7" font-size="5.25" text-anchor="end" fill="#111" stroke="#111" stroke-width="0">n(high)=192</text>
<text x="668.3" y="417.4" font-size="5.25" text-anchor="end" fill="#111" stroke="#111" stroke-width="0">n(low)=192</text>
</g>
</svg>
</body></html>
